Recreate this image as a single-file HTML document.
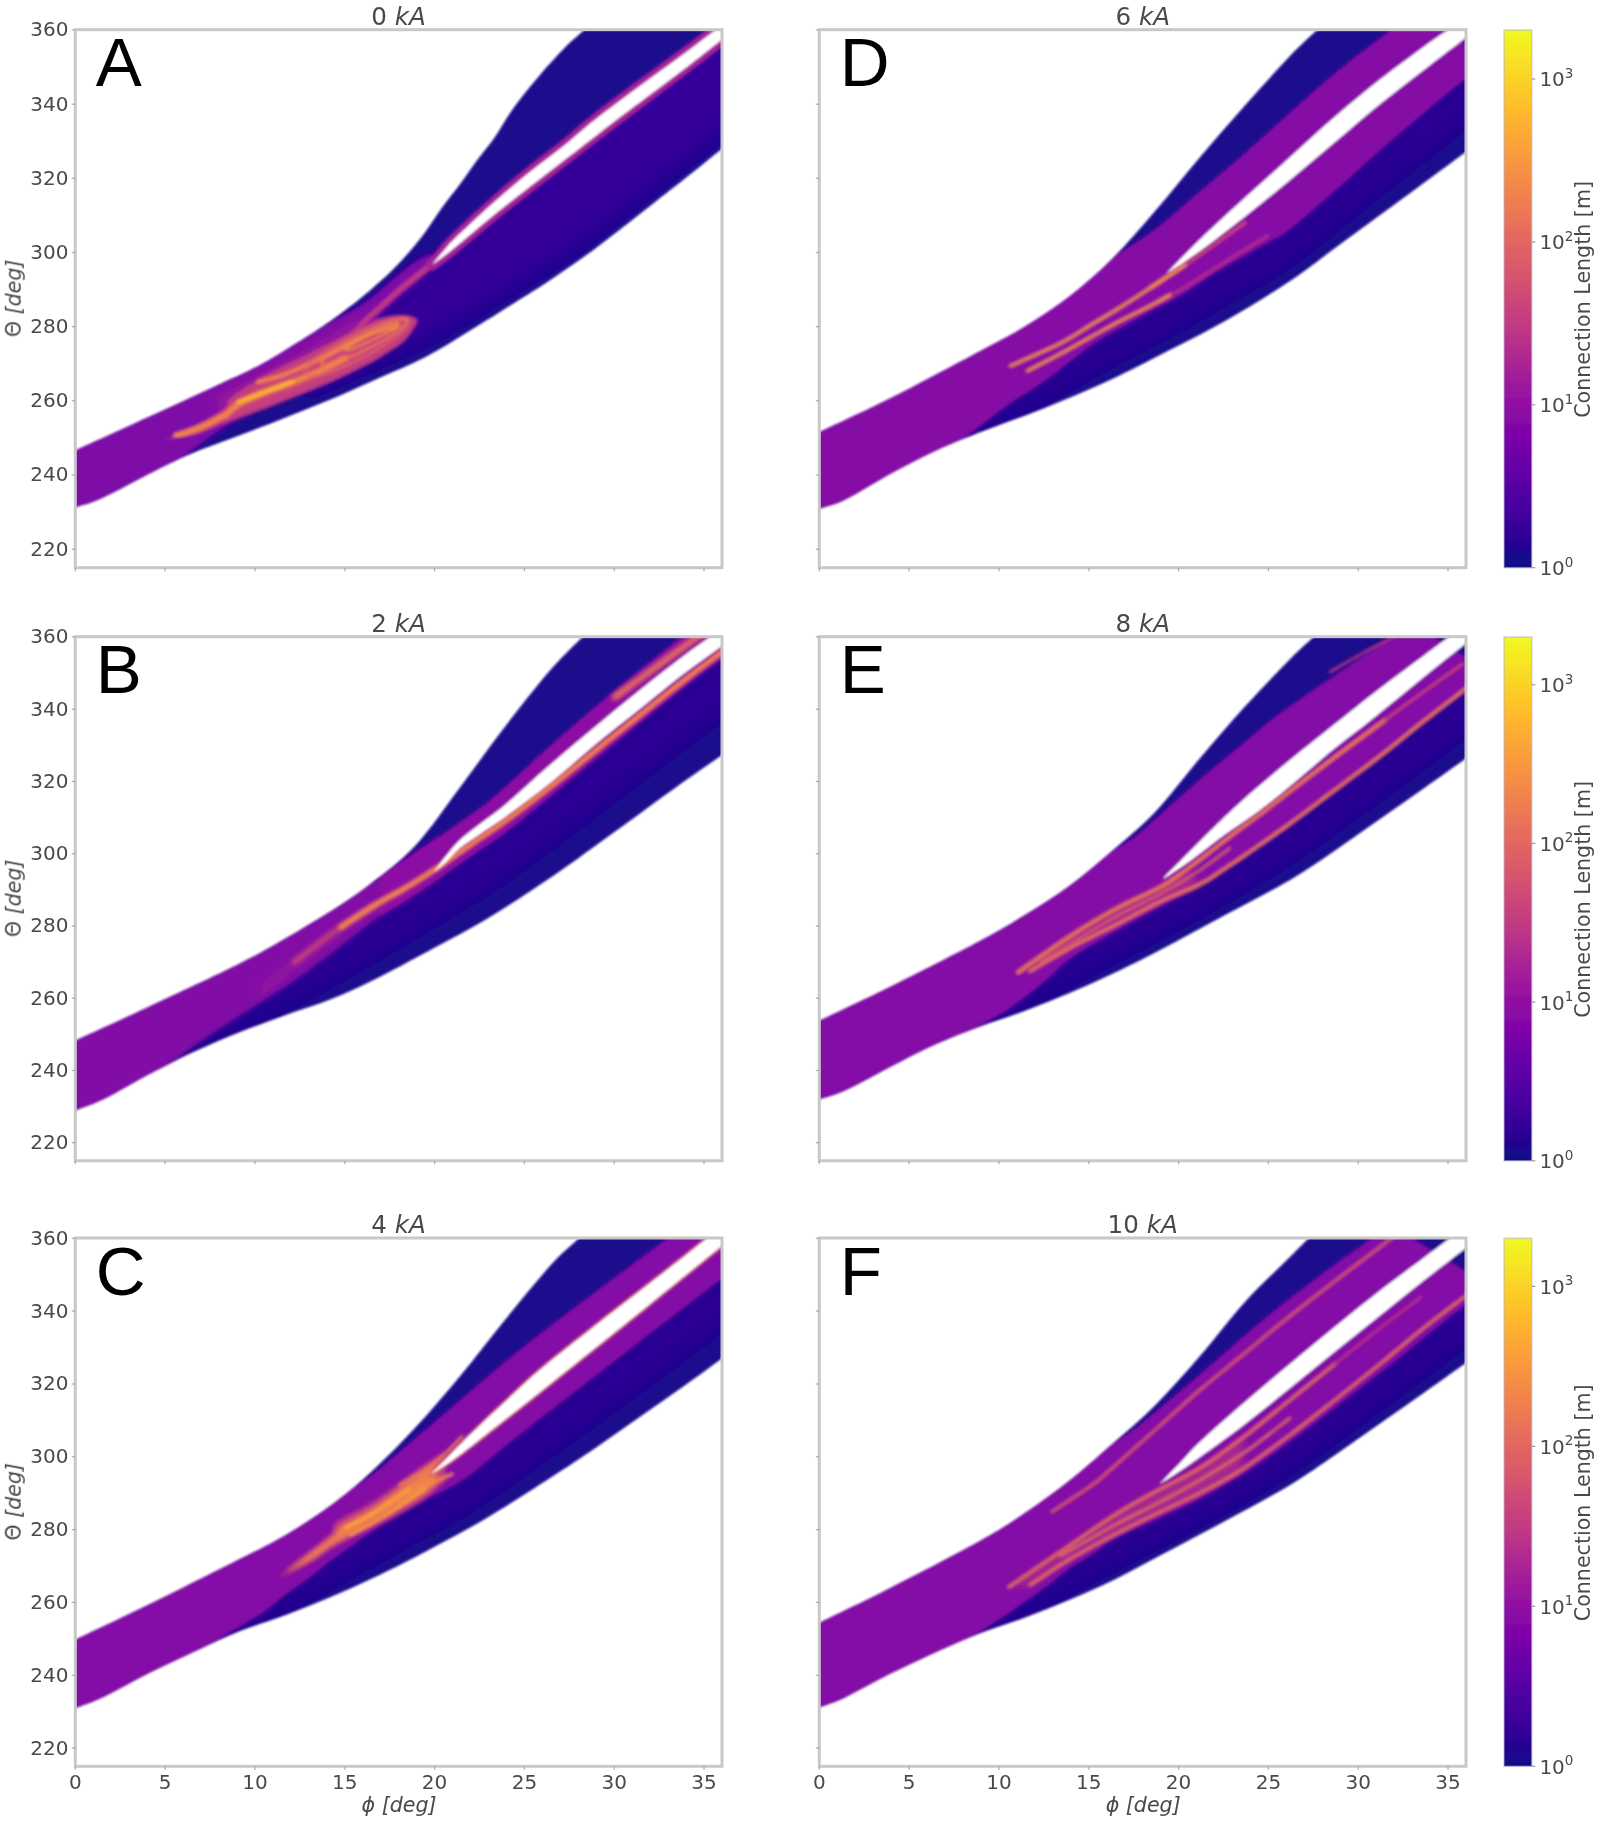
<!DOCTYPE html>
<html lang="en"><head><meta charset="utf-8"><title>Connection length maps</title>
<style>
html,body{margin:0;padding:0;background:#fff;}
body{width:1600px;height:1822px;overflow:hidden;}
svg{display:block;font-family:"DejaVu Sans","Liberation Sans",sans-serif;}
.tk{font-size:20px;fill:#4a4a4a;}
.tt{font-size:24.6px;fill:#4a4a4a;}
.lb{font-size:20.6px;fill:#4a4a4a;}
.it{font-style:italic;}
.big{font-family:"Liberation Sans",sans-serif;font-size:69px;fill:#000;}
.sup{font-size:13.5px;}
</style></head><body>
<svg width="1600" height="1822" viewBox="0 0 1600 1822">
<defs>
<linearGradient id="plasma" x1="0" y1="1" x2="0" y2="0">
<stop offset="0.00" stop-color="#0d0887"/><stop offset="0.05" stop-color="#2c0594"/><stop offset="0.10" stop-color="#42049e"/><stop offset="0.15" stop-color="#5601a4"/><stop offset="0.20" stop-color="#6a00a8"/><stop offset="0.25" stop-color="#7e03a8"/><stop offset="0.30" stop-color="#8f0da4"/><stop offset="0.35" stop-color="#a11b9b"/><stop offset="0.40" stop-color="#b12a90"/><stop offset="0.45" stop-color="#c03a83"/><stop offset="0.50" stop-color="#cc4778"/><stop offset="0.55" stop-color="#d8576b"/><stop offset="0.60" stop-color="#e16462"/><stop offset="0.65" stop-color="#ea7457"/><stop offset="0.70" stop-color="#f2844b"/><stop offset="0.75" stop-color="#f89540"/><stop offset="0.80" stop-color="#fca636"/><stop offset="0.85" stop-color="#feba2c"/><stop offset="0.90" stop-color="#fcce25"/><stop offset="0.95" stop-color="#f7e425"/><stop offset="1.00" stop-color="#f0f921"/>
</linearGradient>
<filter id="b1" x="-5%" y="-5%" width="110%" height="110%"><feGaussianBlur stdDeviation="0.9"/></filter>
<filter id="b2" x="-10%" y="-10%" width="120%" height="120%"><feGaussianBlur stdDeviation="2"/></filter>
<filter id="b4" x="-20%" y="-20%" width="140%" height="140%"><feGaussianBlur stdDeviation="4"/></filter>
<filter id="b8" x="-30%" y="-30%" width="160%" height="160%"><feGaussianBlur stdDeviation="11"/></filter>
<filter id="bt"><feGaussianBlur stdDeviation="0.55"/></filter>

<clipPath id="cpA"><rect x="75.3" y="30.0" width="646.7" height="537.7"/></clipPath>
<clipPath id="cpD"><rect x="819.3" y="30.0" width="646.7" height="537.7"/></clipPath>
<clipPath id="cpB"><rect x="75.3" y="637.0" width="646.7" height="523.8"/></clipPath>
<clipPath id="cpE"><rect x="819.3" y="637.0" width="646.7" height="523.8"/></clipPath>
<clipPath id="cpC"><rect x="75.3" y="1238.3" width="646.7" height="528.0"/></clipPath>
<clipPath id="cpF"><rect x="819.3" y="1238.3" width="646.7" height="528.0"/></clipPath>
</defs>
<rect width="1600" height="1822" fill="#fff"/>
<g clip-path="url(#cpA)"><g filter="url(#b1)">
<clipPath id="olA"><path d="M58.0,458.0 C61.1,456.7 61.7,456.7 76.6,450.0 C91.5,443.3 124.0,428.4 147.5,417.6 C171.0,406.8 198.4,394.2 217.5,385.3 C236.6,376.4 247.0,372.2 262.0,364.0 C277.0,355.8 294.9,344.3 307.5,336.3 C320.1,328.3 328.8,322.3 337.5,316.0 C346.2,309.7 353.8,303.8 360.0,298.8 C366.2,293.8 370.0,290.4 375.0,286.0 C380.0,281.6 384.6,277.8 390.0,272.5 C395.4,267.2 401.7,260.7 407.5,254.0 C413.3,247.3 419.2,240.3 425.0,232.5 C430.8,224.7 436.7,215.0 442.5,207.0 C448.3,199.0 454.2,192.2 460.0,184.3 C465.8,176.4 471.7,167.7 477.5,159.8 C483.3,151.9 488.8,146.0 495.0,137.0 C501.2,128.0 507.5,116.3 515.0,106.0 C522.5,95.7 531.7,84.8 540.0,75.0 C548.3,65.2 557.7,55.0 565.0,47.5 C572.3,40.0 577.7,35.9 584.0,30.0 C590.3,24.1 599.8,15.0 603.0,12.0 L760.0,12.0 L745.0,131.0 C741.0,134.1 729.3,142.9 721.0,149.5 C712.7,156.1 705.8,161.9 695.0,170.5 C684.2,179.1 671.0,189.5 656.0,201.2 C641.0,213.0 617.7,231.3 605.0,241.0 C592.3,250.7 589.5,252.8 580.0,259.5 C570.5,266.2 558.8,274.3 548.0,281.5 C537.2,288.7 528.0,294.3 515.0,302.5 C502.0,310.7 485.0,321.4 470.0,330.5 C455.0,339.6 440.0,349.5 425.0,357.3 C410.0,365.1 394.2,371.1 380.0,377.5 C365.8,383.9 352.5,390.1 340.0,395.5 C327.5,400.9 316.7,405.0 305.0,409.8 C293.3,414.5 281.7,419.2 270.0,423.8 C258.3,428.3 246.7,432.5 235.0,436.9 C223.3,441.3 211.7,445.2 200.0,450.0 C188.3,454.8 181.0,457.9 165.0,465.8 C149.0,473.6 118.5,490.4 103.8,497.2 C89.0,504.1 84.2,504.2 76.6,506.9 C69.0,509.6 61.1,512.4 58.0,513.5Z"/></clipPath>
<path d="M58.0,458.0 C61.1,456.7 61.7,456.7 76.6,450.0 C91.5,443.3 124.0,428.4 147.5,417.6 C171.0,406.8 198.4,394.2 217.5,385.3 C236.6,376.4 247.0,372.2 262.0,364.0 C277.0,355.8 294.9,344.3 307.5,336.3 C320.1,328.3 328.8,322.3 337.5,316.0 C346.2,309.7 353.8,303.8 360.0,298.8 C366.2,293.8 370.0,290.4 375.0,286.0 C380.0,281.6 384.6,277.8 390.0,272.5 C395.4,267.2 401.7,260.7 407.5,254.0 C413.3,247.3 419.2,240.3 425.0,232.5 C430.8,224.7 436.7,215.0 442.5,207.0 C448.3,199.0 454.2,192.2 460.0,184.3 C465.8,176.4 471.7,167.7 477.5,159.8 C483.3,151.9 488.8,146.0 495.0,137.0 C501.2,128.0 507.5,116.3 515.0,106.0 C522.5,95.7 531.7,84.8 540.0,75.0 C548.3,65.2 557.7,55.0 565.0,47.5 C572.3,40.0 577.7,35.9 584.0,30.0 C590.3,24.1 599.8,15.0 603.0,12.0 L760.0,12.0 L745.0,131.0 C741.0,134.1 729.3,142.9 721.0,149.5 C712.7,156.1 705.8,161.9 695.0,170.5 C684.2,179.1 671.0,189.5 656.0,201.2 C641.0,213.0 617.7,231.3 605.0,241.0 C592.3,250.7 589.5,252.8 580.0,259.5 C570.5,266.2 558.8,274.3 548.0,281.5 C537.2,288.7 528.0,294.3 515.0,302.5 C502.0,310.7 485.0,321.4 470.0,330.5 C455.0,339.6 440.0,349.5 425.0,357.3 C410.0,365.1 394.2,371.1 380.0,377.5 C365.8,383.9 352.5,390.1 340.0,395.5 C327.5,400.9 316.7,405.0 305.0,409.8 C293.3,414.5 281.7,419.2 270.0,423.8 C258.3,428.3 246.7,432.5 235.0,436.9 C223.3,441.3 211.7,445.2 200.0,450.0 C188.3,454.8 181.0,457.9 165.0,465.8 C149.0,473.6 118.5,490.4 103.8,497.2 C89.0,504.1 84.2,504.2 76.6,506.9 C69.0,509.6 61.1,512.4 58.0,513.5Z" fill="#1b088c"/>
<g clip-path="url(#olA)">
<path d="M300.0,372.0 C310.0,364.2 338.0,343.0 360.0,325.0 C382.0,307.0 393.7,296.2 432.0,264.0 C470.3,231.8 547.0,166.5 590.0,132.0 C633.0,97.5 665.0,75.7 690.0,57.0 C715.0,38.3 731.7,26.2 740.0,20.0 L740.0,117.0 C732.5,123.0 709.0,141.8 695.0,153.0 C681.0,164.2 671.0,172.2 656.0,184.0 C641.0,195.8 619.8,212.5 605.0,224.0 C590.2,235.5 582.0,242.8 567.0,253.0 C552.0,263.2 531.2,275.0 515.0,285.0 C498.8,295.0 485.0,304.0 470.0,313.0 C455.0,322.0 443.3,329.8 425.0,339.0 C406.7,348.2 380.8,358.7 360.0,368.0 C339.2,377.3 310.0,390.5 300.0,395.0Z" fill="#35049a" filter="url(#b8)"/>
<path d="M58.0,452.0 C61.1,450.8 61.7,451.7 76.6,445.0 C91.5,438.3 124.0,422.8 147.5,412.0 C171.0,401.2 198.4,388.8 217.5,380.0 C236.6,371.2 247.0,366.7 262.0,359.0 C277.0,351.3 296.2,340.2 307.5,334.0 C318.8,327.8 320.4,327.3 330.0,322.0 C339.6,316.7 353.3,310.2 365.0,302.0 C376.7,293.8 391.2,280.0 400.0,273.0 C408.8,266.0 412.2,263.3 417.5,260.0 C422.8,256.7 429.6,254.2 432.0,253.0 L432.4,268.0 C429.9,270.3 422.9,277.2 417.5,282.0 C412.1,286.8 405.8,291.5 400.0,296.5 C394.2,301.5 386.2,308.2 382.5,312.0 C378.8,315.8 379.1,314.0 378.0,319.0 C376.9,324.0 378.2,334.8 376.0,342.0 C373.8,349.2 371.0,356.3 365.0,362.0 C359.0,367.7 347.1,372.3 340.0,376.0 C332.9,379.7 331.2,380.3 322.5,384.0 C313.8,387.7 299.2,393.3 287.5,398.0 C275.8,402.7 264.2,406.3 252.5,412.0 C240.8,417.7 228.8,424.7 217.5,432.0 C206.2,439.3 193.8,450.0 185.0,456.0 C176.2,462.0 178.5,460.7 165.0,468.0 C151.5,475.3 118.5,493.0 103.8,500.0 C89.0,507.0 84.2,507.5 76.6,510.0 C69.0,512.5 61.1,514.2 58.0,515.0Z" fill="#7e08a7" filter="url(#b2)"/>
<path d="M215.0,395.0 C222.8,390.8 246.6,378.3 262.0,370.0 C277.4,361.7 294.9,352.0 307.5,345.0 C320.1,338.0 328.8,333.2 337.5,328.0 C346.2,322.8 356.2,316.3 360.0,314.0 L360.0,338.0 C356.2,340.0 346.2,344.7 337.5,350.0 C328.8,355.3 320.1,363.0 307.5,370.0 C294.9,377.0 277.4,384.5 262.0,392.0 C246.6,399.5 222.8,411.2 215.0,415.0Z" fill="#9a169e" filter="url(#b4)" opacity="0.7"/>
<path d="M340.0,346.0 C342.0,344.2 347.8,339.2 352.0,335.0 C356.2,330.8 359.9,326.0 365.0,321.0 C370.1,316.0 376.7,310.5 382.5,305.2 C388.3,300.0 394.2,294.5 400.0,289.5 C405.8,284.5 412.1,279.7 417.5,275.5 C422.9,271.3 429.9,266.0 432.4,264.1" fill="none" stroke="#bd3786" stroke-width="6" stroke-linecap="round" filter="url(#b1)"/>
<path d="M432.0,264.8 C434.0,262.4 440.0,255.1 444.0,250.5 C448.0,245.9 447.5,245.7 456.0,237.5 C464.5,229.3 482.7,212.4 495.0,201.5 C507.3,190.6 518.3,181.4 530.0,172.0 C541.7,162.6 554.4,153.5 565.0,145.0 C575.6,136.5 581.0,130.8 593.5,121.0 C606.0,111.2 623.9,97.9 640.0,86.0 C656.1,74.1 673.3,62.0 690.0,49.5 C706.7,37.0 731.7,17.4 740.0,11.0 L740.0,25.0 C731.7,31.6 710.9,48.5 690.0,64.5 C669.1,80.5 629.8,109.7 614.8,121.0 C599.8,132.3 608.3,126.1 600.0,132.5 C591.7,138.9 576.7,150.5 565.0,159.5 C553.3,168.5 541.7,177.4 530.0,186.5 C518.3,195.6 507.3,204.0 495.0,214.0 C482.7,224.0 464.5,239.5 456.0,246.5 C447.5,253.5 448.0,252.9 444.0,256.0 C440.0,259.1 434.0,263.3 432.0,264.8Z" fill="#a8239a" stroke="#a8239a" stroke-width="11" stroke-linejoin="round" filter="url(#b1)"/>
<path d="M432.0,264.8 C434.0,262.4 440.0,255.1 444.0,250.5 C448.0,245.9 447.5,245.7 456.0,237.5 C464.5,229.3 482.7,212.4 495.0,201.5 C507.3,190.6 518.3,181.4 530.0,172.0 C541.7,162.6 554.4,153.5 565.0,145.0 C575.6,136.5 581.0,130.8 593.5,121.0 C606.0,111.2 623.9,97.9 640.0,86.0 C656.1,74.1 673.3,62.0 690.0,49.5 C706.7,37.0 731.7,17.4 740.0,11.0 L740.0,25.0 C731.7,31.6 710.9,48.5 690.0,64.5 C669.1,80.5 629.8,109.7 614.8,121.0 C599.8,132.3 608.3,126.1 600.0,132.5 C591.7,138.9 576.7,150.5 565.0,159.5 C553.3,168.5 541.7,177.4 530.0,186.5 C518.3,195.6 507.3,204.0 495.0,214.0 C482.7,224.0 464.5,239.5 456.0,246.5 C447.5,253.5 448.0,252.9 444.0,256.0 C440.0,259.1 434.0,263.3 432.0,264.8Z" fill="#fff"/>
<path d="M165.0,439.5 C170.0,437.2 185.0,431.2 195.0,426.0 C205.0,420.8 219.0,412.7 224.8,408.0 C230.6,403.3 223.3,403.4 230.0,398.0 C236.7,392.6 253.3,382.0 265.0,375.3 C276.7,368.6 288.3,363.6 300.0,357.8 C311.7,352.0 323.3,346.1 335.0,340.3 C346.7,334.5 361.2,326.8 370.0,322.8 C378.8,318.9 381.1,317.8 387.5,316.6 C393.9,315.4 403.5,315.4 408.5,315.8 C413.5,316.2 415.8,318.7 417.3,319.3 L417.3,322.8 C415.2,325.7 410.0,335.4 405.0,340.3 C400.0,345.2 393.3,348.7 387.5,352.5 C381.7,356.3 378.8,358.4 370.0,363.0 C361.2,367.6 346.7,374.8 335.0,380.0 C323.3,385.2 311.7,389.8 300.0,394.5 C288.3,399.2 276.7,404.1 265.0,408.5 C253.3,412.9 241.7,416.7 230.0,421.0 C218.3,425.3 205.8,431.4 195.0,434.5 C184.2,437.6 170.0,438.7 165.0,439.5Z" fill="#c23c80" filter="url(#b1)"/>
<path d="M232.0,404.0 C237.5,400.5 253.7,389.5 265.0,383.0 C276.3,376.5 288.3,370.8 300.0,365.0 C311.7,359.2 323.3,353.7 335.0,348.0 C346.7,342.3 359.2,335.3 370.0,331.0 C380.8,326.7 395.0,323.5 400.0,322.0 L400.0,330.0 C395.0,333.7 380.8,345.2 370.0,352.0 C359.2,358.8 346.7,365.2 335.0,371.0 C323.3,376.8 311.7,382.0 300.0,387.0 C288.3,392.0 276.3,396.5 265.0,401.0 C253.7,405.5 237.5,411.8 232.0,414.0Z" fill="#cf4a75" filter="url(#b2)" opacity="0.7"/>
<path d="M176.0,435.5 C180.0,434.2 191.7,431.0 200.0,427.5 C208.3,424.0 221.7,416.7 226.0,414.5" fill="none" stroke="#f1824c" stroke-width="6" stroke-linecap="round" filter="url(#b1)"/>
<path d="M226.0,414.5 C228.7,412.4 234.9,405.9 242.0,402.0 C249.1,398.1 260.0,394.3 268.5,391.0 C277.0,387.7 284.4,385.3 293.0,382.0 C301.6,378.7 311.3,375.0 320.0,371.0 C328.7,367.0 340.8,360.2 345.0,358.0" fill="none" stroke="#f1824c" stroke-width="6" stroke-linecap="round" filter="url(#b1)"/>
<path d="M238.0,402.5 C243.1,400.5 259.3,394.0 268.5,390.5 C277.7,387.0 288.9,383.0 293.0,381.5" fill="none" stroke="#fdb52e" stroke-width="3.6" stroke-linecap="round" filter="url(#b1)"/>
<path d="M258.0,382.0 C261.7,381.0 273.0,378.3 280.0,376.0 C287.0,373.7 290.8,372.1 300.0,368.0 C309.2,363.9 323.3,357.2 335.0,351.5 C346.7,345.8 359.8,338.1 370.0,334.0 C380.2,329.9 391.7,328.2 396.0,327.0" fill="none" stroke="#f1824c" stroke-width="4" stroke-linecap="round" filter="url(#b1)"/>
<ellipse cx="364.0" cy="342.0" rx="48" ry="8" transform="rotate(-27 364.0 342.0)" fill="none" stroke="#ef7e50" stroke-width="2.4" filter="url(#b1)"/>
<ellipse cx="372.0" cy="336.5" rx="30" ry="3.6" transform="rotate(-26 372.0 336.5)" fill="none" stroke="#f58f44" stroke-width="2.2" filter="url(#b1)"/>
<ellipse cx="357.0" cy="347.0" rx="58" ry="12" transform="rotate(-27.5 357.0 347.0)" fill="none" stroke="#e36860" stroke-width="2.2" filter="url(#b1)"/>
</g>
</g></g>
<rect x="75.3" y="29.7" width="646.7" height="538.0" fill="none" stroke="#c8c8c8" stroke-width="3"/>
<g clip-path="url(#cpD)"><g filter="url(#b1)">
<clipPath id="olD"><path d="M803.0,440.0 C805.7,438.7 804.5,439.2 819.0,432.3 C833.5,425.4 863.2,412.0 890.0,398.5 C916.8,385.0 957.5,363.2 980.0,351.2 C1002.5,339.2 1010.0,335.7 1025.0,326.5 C1040.0,317.3 1055.5,307.2 1070.0,296.0 C1084.5,284.8 1097.8,273.1 1112.0,259.0 C1126.2,244.9 1140.3,228.2 1155.0,211.2 C1169.7,194.3 1185.0,174.9 1200.0,157.2 C1215.0,139.6 1230.0,122.4 1245.0,105.5 C1260.0,88.6 1278.0,68.6 1290.0,56.0 C1302.0,43.4 1309.5,37.3 1317.0,30.0 C1324.5,22.7 1332.0,15.0 1335.0,12.0 L1500.0,12.0 L1490.0,134.0 C1485.5,137.3 1473.8,146.0 1463.0,154.0 C1452.2,162.0 1438.8,171.8 1425.0,182.0 C1411.2,192.2 1395.0,204.0 1380.0,215.0 C1365.0,226.0 1350.0,237.0 1335.0,248.0 C1320.0,259.0 1308.3,268.8 1290.0,281.0 C1271.7,293.2 1246.7,308.7 1225.0,321.0 C1203.3,333.3 1180.2,344.7 1160.0,355.0 C1139.8,365.3 1123.3,373.9 1104.0,382.8 C1084.7,391.6 1064.0,400.2 1044.0,408.2 C1024.0,416.2 1002.2,423.6 984.0,430.8 C965.8,437.9 950.7,443.8 935.0,451.0 C919.3,458.2 905.0,465.9 890.0,474.0 C875.0,482.1 856.8,494.0 845.0,499.8 C833.2,505.5 826.0,506.4 819.0,508.8 C812.0,511.1 805.7,513.1 803.0,514.0Z"/></clipPath>
<path d="M803.0,440.0 C805.7,438.7 804.5,439.2 819.0,432.3 C833.5,425.4 863.2,412.0 890.0,398.5 C916.8,385.0 957.5,363.2 980.0,351.2 C1002.5,339.2 1010.0,335.7 1025.0,326.5 C1040.0,317.3 1055.5,307.2 1070.0,296.0 C1084.5,284.8 1097.8,273.1 1112.0,259.0 C1126.2,244.9 1140.3,228.2 1155.0,211.2 C1169.7,194.3 1185.0,174.9 1200.0,157.2 C1215.0,139.6 1230.0,122.4 1245.0,105.5 C1260.0,88.6 1278.0,68.6 1290.0,56.0 C1302.0,43.4 1309.5,37.3 1317.0,30.0 C1324.5,22.7 1332.0,15.0 1335.0,12.0 L1500.0,12.0 L1490.0,134.0 C1485.5,137.3 1473.8,146.0 1463.0,154.0 C1452.2,162.0 1438.8,171.8 1425.0,182.0 C1411.2,192.2 1395.0,204.0 1380.0,215.0 C1365.0,226.0 1350.0,237.0 1335.0,248.0 C1320.0,259.0 1308.3,268.8 1290.0,281.0 C1271.7,293.2 1246.7,308.7 1225.0,321.0 C1203.3,333.3 1180.2,344.7 1160.0,355.0 C1139.8,365.3 1123.3,373.9 1104.0,382.8 C1084.7,391.6 1064.0,400.2 1044.0,408.2 C1024.0,416.2 1002.2,423.6 984.0,430.8 C965.8,437.9 950.7,443.8 935.0,451.0 C919.3,458.2 905.0,465.9 890.0,474.0 C875.0,482.1 856.8,494.0 845.0,499.8 C833.2,505.5 826.0,506.4 819.0,508.8 C812.0,511.1 805.7,513.1 803.0,514.0Z" fill="#1b088c"/>
<g clip-path="url(#olD)">
<path d="M970.0,429.7 C976.7,424.7 996.7,409.1 1010.0,399.7 C1023.3,390.3 1036.7,382.7 1050.0,373.2 C1063.3,363.6 1076.7,351.5 1090.0,342.5 C1103.3,333.5 1116.7,326.5 1130.0,319.0 C1143.3,311.5 1156.7,305.1 1170.0,297.3 C1183.3,289.6 1196.7,280.6 1210.0,272.5 C1223.3,264.4 1236.7,256.8 1250.0,248.9 C1263.3,241.1 1276.7,234.9 1290.0,225.2 C1303.3,215.6 1316.7,202.9 1330.0,191.2 C1343.3,179.6 1356.7,167.2 1370.0,155.5 C1383.3,143.8 1396.7,132.3 1410.0,121.0 C1423.3,109.7 1436.7,98.7 1450.0,87.5 C1463.3,76.4 1483.3,59.6 1490.0,54.0 L1490.0,99.8 C1483.3,105.0 1463.3,120.7 1450.0,131.2 C1436.7,141.6 1423.3,151.9 1410.0,162.4 C1396.7,172.9 1383.3,183.4 1370.0,194.1 C1356.7,204.7 1343.3,215.7 1330.0,226.3 C1316.7,236.9 1303.3,248.4 1290.0,257.7 C1276.7,267.0 1263.3,274.0 1250.0,281.9 C1236.7,289.8 1223.3,297.6 1210.0,305.3 C1196.7,313.0 1183.3,320.7 1170.0,328.0 C1156.7,335.2 1143.3,341.8 1130.0,348.8 C1116.7,355.7 1103.3,362.4 1090.0,369.7 C1076.7,377.1 1063.3,385.6 1050.0,392.9 C1036.7,400.1 1023.3,406.1 1010.0,413.2 C996.7,420.3 976.7,431.6 970.0,435.3Z" fill="#2d0595" filter="url(#b8)"/>
<path d="M803.0,434.0 C805.7,432.8 804.5,433.8 819.0,427.0 C833.5,420.2 863.2,406.5 890.0,393.0 C916.8,379.5 957.5,358.0 980.0,346.0 C1002.5,334.0 1010.0,330.2 1025.0,321.0 C1040.0,311.8 1055.5,301.5 1070.0,291.0 C1084.5,280.5 1097.8,268.3 1112.0,258.0 C1126.2,247.7 1140.3,240.4 1155.0,229.2 C1169.7,218.1 1185.0,203.8 1200.0,191.0 C1215.0,178.2 1230.0,165.9 1245.0,152.8 C1260.0,139.6 1275.0,125.6 1290.0,112.2 C1305.0,98.9 1320.0,85.3 1335.0,72.9 C1350.0,60.5 1370.7,45.1 1380.0,38.0 C1389.3,30.8 1385.7,34.3 1391.0,30.0 C1396.3,25.7 1408.5,15.0 1412.0,12.0 L1490.0,58.0 C1485.5,61.8 1473.8,71.7 1463.0,80.8 C1452.2,89.8 1438.8,100.6 1425.0,112.2 C1411.2,123.9 1395.0,137.4 1380.0,150.5 C1365.0,163.6 1350.0,177.9 1335.0,191.0 C1320.0,204.1 1301.2,220.6 1290.0,229.2 C1278.8,237.9 1279.2,236.2 1267.5,243.0 C1255.8,249.8 1234.6,261.2 1220.0,270.0 C1205.4,278.8 1191.7,289.0 1180.0,296.0 C1168.3,303.0 1160.0,306.6 1150.0,312.0 C1140.0,317.4 1130.0,322.8 1120.0,328.5 C1110.0,334.2 1102.5,337.8 1090.0,346.5 C1077.5,355.2 1058.7,371.2 1045.0,381.0 C1031.3,390.8 1021.0,395.8 1008.0,405.0 C995.0,414.2 979.2,427.8 967.0,436.0 C954.8,444.2 947.8,447.2 935.0,454.0 C922.2,460.8 905.0,469.0 890.0,477.0 C875.0,485.0 856.8,496.3 845.0,502.0 C833.2,507.7 826.0,508.7 819.0,511.0 C812.0,513.3 805.7,515.2 803.0,516.0Z" fill="#8508a6" filter="url(#b1)"/>
<path d="M1160.0,300.6 C1164.0,298.5 1173.2,294.2 1184.0,287.8 C1194.8,281.3 1211.1,270.6 1225.0,262.0 C1238.9,253.4 1260.4,240.3 1267.5,236.0" fill="none" stroke="#b12a90" stroke-width="3.5" stroke-linecap="round" filter="url(#b1)"/>
<path d="M1150.0,288.0 C1158.3,282.4 1184.2,265.4 1200.0,254.5 C1215.8,243.6 1237.5,227.8 1245.0,222.5" fill="none" stroke="#cc4778" stroke-width="3.5" stroke-linecap="round" filter="url(#b1)"/>
<path d="M1010.4,365.9 C1018.7,362.2 1046.7,350.2 1060.0,343.5 C1073.3,336.8 1080.0,331.5 1090.0,325.5 C1100.0,319.5 1108.3,314.8 1120.0,307.5 C1131.7,300.2 1149.2,288.6 1160.0,281.5 C1170.8,274.4 1180.8,267.8 1185.0,265.0" fill="none" stroke="#f68d45" stroke-width="3.3" stroke-linecap="round" filter="url(#b1)"/>
<path d="M1027.2,371.0 C1032.7,368.2 1049.5,359.6 1060.0,354.0 C1070.5,348.4 1080.0,343.0 1090.0,337.5 C1100.0,332.0 1110.0,326.2 1120.0,321.0 C1130.0,315.8 1141.7,310.3 1150.0,306.0 C1158.3,301.7 1166.7,296.8 1170.0,295.0" fill="none" stroke="#f68d45" stroke-width="3.3" stroke-linecap="round" filter="url(#b1)"/>
<path d="M1166.0,274.0 C1171.7,268.2 1186.8,252.1 1200.0,239.4 C1213.2,226.7 1230.0,211.4 1245.0,197.8 C1260.0,184.1 1275.0,170.8 1290.0,157.2 C1305.0,143.8 1320.0,129.7 1335.0,116.8 C1350.0,103.8 1365.0,91.4 1380.0,79.6 C1395.0,67.8 1413.8,54.2 1425.0,45.9 C1436.2,37.6 1440.0,35.5 1447.5,30.0 C1455.0,24.5 1466.2,15.8 1470.0,13.0 L1490.0,21.0 C1485.5,24.2 1473.8,32.0 1463.0,40.0 C1452.2,48.0 1438.8,58.3 1425.0,69.0 C1411.2,79.7 1395.0,91.8 1380.0,104.0 C1365.0,116.2 1350.0,129.3 1335.0,142.0 C1320.0,154.7 1305.0,167.6 1290.0,180.0 C1275.0,192.4 1260.0,204.7 1245.0,216.5 C1230.0,228.3 1213.2,241.4 1200.0,251.0 C1186.8,260.6 1171.7,270.2 1166.0,274.0Z" fill="#fff"/>
</g>
</g></g>
<rect x="819.3" y="29.7" width="646.7" height="538.0" fill="none" stroke="#c8c8c8" stroke-width="3"/>
<g filter="url(#bt)">
<text class="tt" x="398.6" y="25.0" text-anchor="middle">0 <tspan class="it">kA</tspan></text>
<text class="big" x="95.8" y="86.3">A</text>
<line x1="71.8" x2="75.3" y1="549.2" y2="549.2" stroke="#aaa" stroke-width="1.2"/>
<text class="tk" x="68.5" y="555.6" text-anchor="end">220</text>
<line x1="71.8" x2="75.3" y1="475.0" y2="475.0" stroke="#aaa" stroke-width="1.2"/>
<text class="tk" x="68.5" y="481.4" text-anchor="end">240</text>
<line x1="71.8" x2="75.3" y1="400.8" y2="400.8" stroke="#aaa" stroke-width="1.2"/>
<text class="tk" x="68.5" y="407.2" text-anchor="end">260</text>
<line x1="71.8" x2="75.3" y1="326.7" y2="326.7" stroke="#aaa" stroke-width="1.2"/>
<text class="tk" x="68.5" y="333.1" text-anchor="end">280</text>
<line x1="71.8" x2="75.3" y1="252.5" y2="252.5" stroke="#aaa" stroke-width="1.2"/>
<text class="tk" x="68.5" y="258.9" text-anchor="end">300</text>
<line x1="71.8" x2="75.3" y1="178.3" y2="178.3" stroke="#aaa" stroke-width="1.2"/>
<text class="tk" x="68.5" y="184.7" text-anchor="end">320</text>
<line x1="71.8" x2="75.3" y1="104.2" y2="104.2" stroke="#aaa" stroke-width="1.2"/>
<text class="tk" x="68.5" y="110.6" text-anchor="end">340</text>
<line x1="71.8" x2="75.3" y1="30.0" y2="30.0" stroke="#aaa" stroke-width="1.2"/>
<text class="tk" x="68.5" y="36.4" text-anchor="end">360</text>
<line x1="75.3" x2="75.3" y1="567.7" y2="571.2" stroke="#aaa" stroke-width="1.2"/>
<line x1="165.1" x2="165.1" y1="567.7" y2="571.2" stroke="#aaa" stroke-width="1.2"/>
<line x1="254.9" x2="254.9" y1="567.7" y2="571.2" stroke="#aaa" stroke-width="1.2"/>
<line x1="344.8" x2="344.8" y1="567.7" y2="571.2" stroke="#aaa" stroke-width="1.2"/>
<line x1="434.6" x2="434.6" y1="567.7" y2="571.2" stroke="#aaa" stroke-width="1.2"/>
<line x1="524.4" x2="524.4" y1="567.7" y2="571.2" stroke="#aaa" stroke-width="1.2"/>
<line x1="614.2" x2="614.2" y1="567.7" y2="571.2" stroke="#aaa" stroke-width="1.2"/>
<line x1="704.0" x2="704.0" y1="567.7" y2="571.2" stroke="#aaa" stroke-width="1.2"/>
<text class="lb" transform="translate(20.8,298.4) rotate(-90)" text-anchor="middle">Θ <tspan class="it">[deg]</tspan></text>
<text class="tt" x="1142.7" y="25.0" text-anchor="middle">6 <tspan class="it">kA</tspan></text>
<text class="big" x="839.8" y="86.3">D</text>
<line x1="815.8" x2="819.3" y1="549.2" y2="549.2" stroke="#aaa" stroke-width="1.2"/>
<line x1="815.8" x2="819.3" y1="475.0" y2="475.0" stroke="#aaa" stroke-width="1.2"/>
<line x1="815.8" x2="819.3" y1="400.8" y2="400.8" stroke="#aaa" stroke-width="1.2"/>
<line x1="815.8" x2="819.3" y1="326.7" y2="326.7" stroke="#aaa" stroke-width="1.2"/>
<line x1="815.8" x2="819.3" y1="252.5" y2="252.5" stroke="#aaa" stroke-width="1.2"/>
<line x1="815.8" x2="819.3" y1="178.3" y2="178.3" stroke="#aaa" stroke-width="1.2"/>
<line x1="815.8" x2="819.3" y1="104.2" y2="104.2" stroke="#aaa" stroke-width="1.2"/>
<line x1="815.8" x2="819.3" y1="30.0" y2="30.0" stroke="#aaa" stroke-width="1.2"/>
<line x1="819.3" x2="819.3" y1="567.7" y2="571.2" stroke="#aaa" stroke-width="1.2"/>
<line x1="909.1" x2="909.1" y1="567.7" y2="571.2" stroke="#aaa" stroke-width="1.2"/>
<line x1="998.9" x2="998.9" y1="567.7" y2="571.2" stroke="#aaa" stroke-width="1.2"/>
<line x1="1088.8" x2="1088.8" y1="567.7" y2="571.2" stroke="#aaa" stroke-width="1.2"/>
<line x1="1178.6" x2="1178.6" y1="567.7" y2="571.2" stroke="#aaa" stroke-width="1.2"/>
<line x1="1268.4" x2="1268.4" y1="567.7" y2="571.2" stroke="#aaa" stroke-width="1.2"/>
<line x1="1358.2" x2="1358.2" y1="567.7" y2="571.2" stroke="#aaa" stroke-width="1.2"/>
<line x1="1448.0" x2="1448.0" y1="567.7" y2="571.2" stroke="#aaa" stroke-width="1.2"/>
<rect x="1504.0" y="30.0" width="27.8" height="537.7" fill="url(#plasma)"/>
<rect x="1504.0" y="30.0" width="27.8" height="537.7" fill="none" stroke="#b8b0c8" stroke-opacity="0.55" stroke-width="1.6"/>
<line x1="1531.8" x2="1535.3" y1="567.7" y2="567.7" stroke="#999" stroke-width="1.2"/>
<text class="tk" x="1539.4" y="575.1">10<tspan class="sup" dy="-8.5">0</tspan></text>
<line x1="1531.8" x2="1535.3" y1="404.8" y2="404.8" stroke="#999" stroke-width="1.2"/>
<text class="tk" x="1539.4" y="412.2">10<tspan class="sup" dy="-8.5">1</tspan></text>
<line x1="1531.8" x2="1535.3" y1="241.9" y2="241.9" stroke="#999" stroke-width="1.2"/>
<text class="tk" x="1539.4" y="249.3">10<tspan class="sup" dy="-8.5">2</tspan></text>
<line x1="1531.8" x2="1535.3" y1="79.0" y2="79.0" stroke="#999" stroke-width="1.2"/>
<text class="tk" x="1539.4" y="86.4">10<tspan class="sup" dy="-8.5">3</tspan></text>
<text class="lb" transform="translate(1589.6,299.4) rotate(-90)" text-anchor="middle">Connection Length [m]</text>
</g>
<g clip-path="url(#cpB)"><g filter="url(#b1)">
<clipPath id="olB"><path d="M58.0,1048.0 C61.1,1046.7 61.6,1047.0 76.9,1040.0 C92.2,1033.0 122.8,1019.0 150.0,1006.2 C177.2,993.5 217.5,974.8 240.0,963.5 C262.5,952.2 270.0,947.4 285.0,938.8 C300.0,930.1 315.8,920.8 330.0,911.8 C344.2,902.7 355.8,895.2 370.0,884.2 C384.2,873.3 400.0,862.1 415.0,846.0 C430.0,829.9 445.0,807.4 460.0,787.5 C475.0,767.6 490.0,746.2 505.0,726.8 C520.0,707.2 537.2,685.3 550.0,670.5 C562.8,655.7 573.2,646.3 581.5,637.9 C589.8,629.5 596.9,623.0 600.0,620.0 L760.0,620.0 L745.0,738.0 C741.2,740.8 732.0,747.8 722.0,754.9 C712.0,762.0 698.7,771.0 685.0,780.8 C671.3,790.5 655.0,802.5 640.0,813.4 C625.0,824.3 610.0,835.2 595.0,846.0 C580.0,856.8 568.3,865.7 550.0,878.0 C531.7,890.3 506.7,907.1 485.0,920.0 C463.3,932.9 438.3,945.6 420.0,955.5 C401.7,965.4 390.0,971.9 375.0,979.2 C360.0,986.6 345.0,993.5 330.0,999.5 C315.0,1005.5 300.0,1009.8 285.0,1015.2 C270.0,1020.7 255.0,1026.0 240.0,1032.0 C225.0,1038.0 210.0,1044.3 195.0,1051.2 C180.0,1058.2 165.0,1065.9 150.0,1073.8 C135.0,1081.6 117.2,1092.5 105.0,1098.5 C92.8,1104.5 84.7,1106.7 76.9,1109.8 C69.1,1112.8 61.1,1115.8 58.0,1117.0Z"/></clipPath>
<path d="M58.0,1048.0 C61.1,1046.7 61.6,1047.0 76.9,1040.0 C92.2,1033.0 122.8,1019.0 150.0,1006.2 C177.2,993.5 217.5,974.8 240.0,963.5 C262.5,952.2 270.0,947.4 285.0,938.8 C300.0,930.1 315.8,920.8 330.0,911.8 C344.2,902.7 355.8,895.2 370.0,884.2 C384.2,873.3 400.0,862.1 415.0,846.0 C430.0,829.9 445.0,807.4 460.0,787.5 C475.0,767.6 490.0,746.2 505.0,726.8 C520.0,707.2 537.2,685.3 550.0,670.5 C562.8,655.7 573.2,646.3 581.5,637.9 C589.8,629.5 596.9,623.0 600.0,620.0 L760.0,620.0 L745.0,738.0 C741.2,740.8 732.0,747.8 722.0,754.9 C712.0,762.0 698.7,771.0 685.0,780.8 C671.3,790.5 655.0,802.5 640.0,813.4 C625.0,824.3 610.0,835.2 595.0,846.0 C580.0,856.8 568.3,865.7 550.0,878.0 C531.7,890.3 506.7,907.1 485.0,920.0 C463.3,932.9 438.3,945.6 420.0,955.5 C401.7,965.4 390.0,971.9 375.0,979.2 C360.0,986.6 345.0,993.5 330.0,999.5 C315.0,1005.5 300.0,1009.8 285.0,1015.2 C270.0,1020.7 255.0,1026.0 240.0,1032.0 C225.0,1038.0 210.0,1044.3 195.0,1051.2 C180.0,1058.2 165.0,1065.9 150.0,1073.8 C135.0,1081.6 117.2,1092.5 105.0,1098.5 C92.8,1104.5 84.7,1106.7 76.9,1109.8 C69.1,1112.8 61.1,1115.8 58.0,1117.0Z" fill="#1b088c"/>
<g clip-path="url(#olB)">
<path d="M190.0,1045.5 C197.1,1040.7 218.5,1026.2 232.7,1016.8 C246.9,1007.3 261.2,998.6 275.4,989.0 C289.6,979.4 303.8,969.8 318.1,959.4 C332.3,949.1 346.5,937.2 360.8,926.9 C375.0,916.6 389.2,907.3 403.5,897.8 C417.7,888.2 431.9,879.3 446.2,869.7 C460.4,860.1 474.6,850.3 488.8,840.0 C503.1,829.7 517.3,818.9 531.5,807.8 C545.8,796.6 560.0,784.7 574.2,773.1 C588.5,761.4 602.7,749.6 616.9,738.0 C631.2,726.3 645.4,714.7 659.6,703.3 C673.8,692.0 688.1,680.8 702.3,669.9 C716.5,659.0 737.9,643.3 745.0,638.0 L745.0,694.8 C737.9,700.0 716.5,715.5 702.3,726.0 C688.1,736.5 673.8,747.1 659.6,757.8 C645.4,768.6 631.2,779.6 616.9,790.5 C602.7,801.3 588.5,812.4 574.2,823.1 C560.0,833.8 545.8,844.5 531.5,854.8 C517.3,865.0 503.1,875.1 488.8,884.4 C474.6,893.8 460.4,902.2 446.2,910.8 C431.9,919.4 417.7,927.7 403.5,936.1 C389.2,944.5 375.0,952.8 360.8,961.0 C346.5,969.3 332.3,977.9 318.1,985.6 C303.8,993.3 289.6,1000.0 275.4,1007.2 C261.2,1014.4 246.9,1021.2 232.7,1028.7 C218.5,1036.1 197.1,1048.0 190.0,1051.8Z" fill="#2d0595" filter="url(#b8)"/>
<path d="M58.0,1042.0 C61.1,1040.7 61.6,1040.8 76.9,1034.0 C92.2,1027.2 122.8,1013.7 150.0,1001.0 C177.2,988.3 217.5,969.3 240.0,958.0 C262.5,946.7 270.0,941.5 285.0,933.0 C300.0,924.5 317.5,914.5 330.0,907.0 C342.5,899.5 351.7,892.8 360.0,888.0 C368.3,883.2 373.3,882.2 380.0,878.0 C386.7,873.8 390.0,870.0 400.0,863.0 C410.0,856.0 433.3,840.5 440.0,836.0 L440.0,878.0 C436.7,880.2 426.7,886.7 420.0,891.0 C413.3,895.3 406.7,899.8 400.0,904.0 C393.3,908.2 390.0,908.8 380.0,916.0 C370.0,923.2 353.3,936.8 340.0,947.0 C326.7,957.2 313.3,967.7 300.0,977.0 C286.7,986.3 276.7,992.2 260.0,1003.0 C243.3,1013.8 214.7,1032.0 200.0,1042.0 C185.3,1052.0 180.3,1057.2 172.0,1063.0 C163.7,1068.8 161.2,1070.5 150.0,1077.0 C138.8,1083.5 117.2,1096.0 105.0,1102.0 C92.8,1108.0 84.7,1110.0 76.9,1113.0 C69.1,1116.0 61.1,1118.8 58.0,1120.0Z" fill="#8108a6" filter="url(#b2)"/>
<path d="M380.0,878.0 C383.3,875.5 390.0,870.0 400.0,863.0 C410.0,856.0 426.7,845.2 440.0,836.0 C453.3,826.8 469.2,816.2 480.0,808.0 C490.8,799.8 493.3,797.3 505.0,787.0 C516.7,776.7 535.0,759.3 550.0,746.0 C565.0,732.7 580.0,719.7 595.0,707.0 C610.0,694.3 625.0,682.2 640.0,670.0 C655.0,657.8 674.2,642.5 685.0,634.0 C695.8,625.5 701.7,621.5 705.0,619.0 L745.0,642.0 C741.2,644.8 732.0,651.5 722.0,659.0 C712.0,666.5 698.7,676.3 685.0,687.0 C671.3,697.7 655.0,710.8 640.0,723.0 C625.0,735.2 610.0,747.7 595.0,760.0 C580.0,772.3 565.0,784.8 550.0,797.0 C535.0,809.2 516.7,824.2 505.0,833.0 C493.3,841.8 487.5,844.8 480.0,850.0 C472.5,855.2 466.7,859.3 460.0,864.0 C453.3,868.7 446.7,873.5 440.0,878.0 C433.3,882.5 426.7,886.7 420.0,891.0 C413.3,895.3 406.7,899.8 400.0,904.0 C393.3,908.2 383.3,914.0 380.0,916.0Z" fill="#8d0da4" filter="url(#b1)"/>
<path d="M262.0,990.0 C267.3,985.7 280.8,974.2 294.0,964.0 C307.2,953.8 327.5,938.5 341.0,929.0 C354.5,919.5 361.8,914.8 375.0,907.0 C388.2,899.2 412.5,886.2 420.0,882.0" fill="none" stroke="#a3209a" stroke-width="10" stroke-linecap="round" filter="url(#b4)" opacity="0.5"/>
<path d="M294.0,962.4 C298.0,959.3 310.2,949.9 318.0,944.0 C325.8,938.1 331.5,933.5 341.0,927.0 C350.5,920.5 369.3,908.7 375.0,905.0" fill="none" stroke="#cf4b74" stroke-width="4.5" stroke-linecap="round" filter="url(#b2)"/>
<path d="M341.0,927.0 C346.7,923.3 365.2,911.0 375.0,905.0 C384.8,899.0 392.5,895.3 400.0,891.0 C407.5,886.7 413.3,883.2 420.0,879.0 C426.7,874.8 433.3,870.5 440.0,866.0 C446.7,861.5 453.3,856.7 460.0,852.0 C466.7,847.3 472.5,843.2 480.0,838.0 C487.5,832.8 493.3,829.5 505.0,821.0 C516.7,812.5 535.0,798.7 550.0,787.0 C565.0,775.3 580.0,763.0 595.0,751.0 C610.0,739.0 625.0,726.9 640.0,715.0 C655.0,703.1 671.3,690.0 685.0,679.5 C698.7,669.0 712.0,659.4 722.0,652.0 C732.0,644.6 741.2,637.8 745.0,635.0" fill="none" stroke="#ef7d50" stroke-width="5.5" stroke-linecap="round" filter="url(#b1)"/>
<path d="M615.0,697.0 C620.0,693.3 632.9,683.8 645.0,675.0 C657.1,666.2 679.0,650.2 687.5,644.0 C696.0,637.8 690.6,642.0 696.0,638.0 C701.4,634.0 716.0,623.0 720.0,620.0" fill="none" stroke="#ea7357" stroke-width="6" stroke-linecap="round" filter="url(#b2)"/>
<path d="M434.0,872.0 C436.0,869.3 441.7,861.3 446.0,856.0 C450.3,850.7 454.3,845.3 460.0,840.0 C465.7,834.7 472.5,829.8 480.0,824.0 C487.5,818.2 493.3,814.8 505.0,805.0 C516.7,795.2 535.0,778.0 550.0,765.0 C565.0,752.0 580.0,739.5 595.0,727.0 C610.0,714.5 625.0,702.0 640.0,690.0 C655.0,678.0 673.3,663.8 685.0,655.0 C696.7,646.2 701.7,643.0 710.0,637.0 C718.3,631.0 730.8,622.0 735.0,619.0 L745.0,629.0 C741.2,631.8 732.0,638.7 722.0,646.0 C712.0,653.3 698.7,662.3 685.0,672.8 C671.3,683.2 655.0,696.8 640.0,708.8 C625.0,720.8 610.0,732.4 595.0,744.8 C580.0,757.1 565.0,771.0 550.0,783.0 C535.0,795.0 516.7,808.5 505.0,817.0 C493.3,825.5 487.5,828.8 480.0,834.0 C472.5,839.2 465.7,843.3 460.0,848.0 C454.3,852.7 450.3,858.0 446.0,862.0 C441.7,866.0 436.0,870.3 434.0,872.0Z" fill="#fff"/>
</g>
</g></g>
<rect x="75.3" y="636.7" width="646.7" height="524.1" fill="none" stroke="#c8c8c8" stroke-width="3"/>
<g clip-path="url(#cpE)"><g filter="url(#b1)">
<clipPath id="olE"><path d="M803.0,1029.0 C805.7,1027.7 804.5,1028.0 819.0,1021.0 C833.5,1014.0 863.2,1000.3 890.0,987.0 C916.8,973.7 957.5,953.0 980.0,941.0 C1002.5,929.0 1010.0,924.2 1025.0,915.0 C1040.0,905.8 1055.8,895.9 1070.0,885.5 C1084.2,875.1 1095.8,865.0 1110.0,852.8 C1124.2,840.5 1140.0,828.0 1155.0,812.2 C1170.0,796.5 1185.0,775.9 1200.0,758.2 C1215.0,740.6 1230.0,723.0 1245.0,706.5 C1260.0,690.0 1278.8,670.7 1290.0,659.2 C1301.2,647.8 1305.7,644.5 1312.5,638.0 C1319.3,631.5 1327.9,623.0 1331.0,620.0 L1500.0,620.0 L1490.0,742.0 C1485.5,745.1 1473.8,752.9 1463.0,760.5 C1452.2,768.1 1438.8,777.8 1425.0,787.5 C1411.2,797.2 1395.0,808.5 1380.0,819.0 C1365.0,829.5 1350.0,840.3 1335.0,850.5 C1320.0,860.7 1308.3,869.2 1290.0,880.0 C1271.7,890.8 1246.7,903.3 1225.0,915.0 C1203.3,926.7 1178.3,940.4 1160.0,950.0 C1141.7,959.6 1130.0,965.4 1115.0,972.5 C1100.0,979.6 1085.0,986.4 1070.0,992.8 C1055.0,999.1 1040.0,1005.1 1025.0,1010.8 C1010.0,1016.4 995.0,1020.9 980.0,1026.5 C965.0,1032.1 950.0,1037.8 935.0,1044.5 C920.0,1051.2 905.0,1059.3 890.0,1067.0 C875.0,1074.7 856.8,1085.2 845.0,1090.6 C833.2,1096.0 826.0,1097.0 819.0,1099.6 C812.0,1102.2 805.7,1104.9 803.0,1106.0Z"/></clipPath>
<path d="M803.0,1029.0 C805.7,1027.7 804.5,1028.0 819.0,1021.0 C833.5,1014.0 863.2,1000.3 890.0,987.0 C916.8,973.7 957.5,953.0 980.0,941.0 C1002.5,929.0 1010.0,924.2 1025.0,915.0 C1040.0,905.8 1055.8,895.9 1070.0,885.5 C1084.2,875.1 1095.8,865.0 1110.0,852.8 C1124.2,840.5 1140.0,828.0 1155.0,812.2 C1170.0,796.5 1185.0,775.9 1200.0,758.2 C1215.0,740.6 1230.0,723.0 1245.0,706.5 C1260.0,690.0 1278.8,670.7 1290.0,659.2 C1301.2,647.8 1305.7,644.5 1312.5,638.0 C1319.3,631.5 1327.9,623.0 1331.0,620.0 L1500.0,620.0 L1490.0,742.0 C1485.5,745.1 1473.8,752.9 1463.0,760.5 C1452.2,768.1 1438.8,777.8 1425.0,787.5 C1411.2,797.2 1395.0,808.5 1380.0,819.0 C1365.0,829.5 1350.0,840.3 1335.0,850.5 C1320.0,860.7 1308.3,869.2 1290.0,880.0 C1271.7,890.8 1246.7,903.3 1225.0,915.0 C1203.3,926.7 1178.3,940.4 1160.0,950.0 C1141.7,959.6 1130.0,965.4 1115.0,972.5 C1100.0,979.6 1085.0,986.4 1070.0,992.8 C1055.0,999.1 1040.0,1005.1 1025.0,1010.8 C1010.0,1016.4 995.0,1020.9 980.0,1026.5 C965.0,1032.1 950.0,1037.8 935.0,1044.5 C920.0,1051.2 905.0,1059.3 890.0,1067.0 C875.0,1074.7 856.8,1085.2 845.0,1090.6 C833.2,1096.0 826.0,1097.0 819.0,1099.6 C812.0,1102.2 805.7,1104.9 803.0,1106.0Z" fill="#1b088c"/>
<g clip-path="url(#olE)">
<path d="M968.0,1027.7 C974.7,1024.0 994.8,1013.9 1008.2,1005.0 C1021.5,996.2 1034.9,984.7 1048.3,974.5 C1061.7,964.3 1075.1,952.9 1088.5,943.9 C1101.8,934.9 1115.2,928.1 1128.6,920.5 C1142.0,913.0 1155.4,906.0 1168.8,898.6 C1182.2,891.2 1195.5,884.3 1208.9,876.2 C1222.3,868.2 1235.7,859.2 1249.1,850.1 C1262.5,841.1 1275.8,831.7 1289.2,822.0 C1302.6,812.3 1316.0,802.0 1329.4,792.0 C1342.8,781.9 1356.2,772.1 1369.5,761.8 C1382.9,751.6 1396.3,740.7 1409.7,730.2 C1423.1,719.8 1436.5,709.2 1449.8,698.9 C1463.2,688.5 1483.3,673.1 1490.0,668.0 L1490.0,710.5 C1483.3,715.4 1463.2,729.9 1449.8,739.7 C1436.5,749.5 1423.1,759.5 1409.7,769.4 C1396.3,779.3 1382.9,789.3 1369.5,799.1 C1356.2,808.9 1342.8,818.5 1329.4,828.0 C1316.0,837.5 1302.6,847.2 1289.2,855.9 C1275.8,864.7 1262.5,872.5 1249.1,880.5 C1235.7,888.5 1222.3,896.5 1208.9,904.1 C1195.5,911.7 1182.2,918.9 1168.8,926.1 C1155.4,933.2 1142.0,940.2 1128.6,947.2 C1115.2,954.2 1101.8,960.7 1088.5,968.0 C1075.1,975.3 1061.7,983.6 1048.3,991.1 C1034.9,998.7 1021.5,1006.5 1008.2,1013.2 C994.8,1020.0 974.7,1028.5 968.0,1031.5Z" fill="#2d0595" filter="url(#b8)"/>
<path d="M803.0,1023.0 C805.7,1021.7 804.5,1021.8 819.0,1015.0 C833.5,1008.2 863.2,995.2 890.0,982.0 C916.8,968.8 957.5,948.0 980.0,936.0 C1002.5,924.0 1010.0,919.3 1025.0,910.0 C1040.0,900.7 1057.5,888.7 1070.0,880.0 C1082.5,871.3 1090.0,864.7 1100.0,858.0 C1110.0,851.3 1120.8,846.5 1130.0,840.0 C1139.2,833.5 1143.3,829.2 1155.0,819.0 C1166.7,808.8 1185.0,791.9 1200.0,779.0 C1215.0,766.1 1233.2,751.3 1245.0,741.5 C1256.8,731.7 1263.5,725.9 1271.0,720.0 C1278.5,714.1 1279.3,713.5 1290.0,706.0 C1300.7,698.5 1320.0,685.2 1335.0,675.0 C1350.0,664.8 1370.7,651.2 1380.0,645.0 C1389.3,638.8 1385.7,641.7 1391.0,638.0 C1396.3,634.3 1408.5,625.5 1412.0,623.0 L1490.0,672.0 C1485.5,675.5 1473.8,684.4 1463.0,692.8 C1452.2,701.1 1438.8,711.1 1425.0,722.0 C1411.2,732.9 1395.0,746.4 1380.0,758.0 C1365.0,769.6 1350.0,780.5 1335.0,791.8 C1320.0,803.0 1305.0,814.6 1290.0,825.5 C1275.0,836.4 1260.0,846.9 1245.0,857.0 C1230.0,867.1 1214.2,877.6 1200.0,886.0 C1185.8,894.4 1174.2,899.6 1160.0,907.2 C1145.8,914.9 1130.0,923.4 1115.0,932.0 C1100.0,940.6 1081.2,951.1 1070.0,959.0 C1058.8,966.9 1055.0,972.9 1047.5,979.2 C1040.0,985.6 1032.5,991.6 1025.0,997.2 C1017.5,1002.9 1013.0,1006.7 1002.5,1013.0 C992.0,1019.3 973.2,1029.2 962.0,1035.0 C950.8,1040.8 947.0,1041.7 935.0,1047.5 C923.0,1053.3 905.0,1062.2 890.0,1070.0 C875.0,1077.8 856.8,1088.5 845.0,1094.0 C833.2,1099.5 826.0,1100.5 819.0,1103.0 C812.0,1105.5 805.7,1108.0 803.0,1109.0Z" fill="#8308a6" filter="url(#b1)"/>
<path d="M1330.0,672.0 C1335.7,668.8 1353.8,658.2 1364.0,652.5 C1374.2,646.8 1382.5,643.1 1391.0,638.0 C1399.5,632.9 1411.0,624.7 1415.0,622.0" fill="none" stroke="#c03a83" stroke-width="2.5" stroke-linecap="round" filter="url(#b1)"/>
<path d="M1018.0,972.5 C1026.7,966.5 1053.8,947.0 1070.0,936.5 C1086.2,926.0 1100.0,917.7 1115.0,909.5 C1130.0,901.3 1148.3,894.0 1160.0,887.5 C1171.7,881.0 1180.8,873.4 1185.0,870.6 L1200.0,884.2 C1193.3,887.1 1174.2,894.8 1160.0,901.6 C1145.8,908.4 1130.0,917.6 1115.0,925.2 C1100.0,932.9 1084.2,940.1 1070.0,947.8 C1055.8,955.4 1036.7,967.1 1030.0,971.0Z" fill="#c8437b" filter="url(#b4)" opacity="0.6"/>
<path d="M1018.0,972.5 C1026.7,966.5 1053.8,947.0 1070.0,936.5 C1086.2,926.0 1100.0,917.7 1115.0,909.5 C1130.0,901.3 1148.3,894.0 1160.0,887.5 C1171.7,881.0 1176.7,876.5 1185.0,870.6 C1193.3,864.7 1201.7,858.2 1210.0,851.9 C1218.3,845.5 1226.7,838.8 1235.0,832.5 C1243.3,826.2 1250.8,821.3 1260.0,814.4 C1269.2,807.5 1277.5,800.6 1290.0,791.0 C1302.5,781.4 1319.2,768.8 1335.0,757.0 C1350.8,745.2 1376.7,726.2 1385.0,720.0" fill="none" stroke="#ea7457" stroke-width="4.2" stroke-linecap="round" filter="url(#b1)"/>
<path d="M1385.0,720.0 C1391.7,715.1 1412.0,700.1 1425.0,690.8 C1438.0,681.4 1456.7,668.2 1463.0,663.8" fill="none" stroke="#c8437b" stroke-width="3" stroke-linecap="round" filter="url(#b1)"/>
<path d="M1030.0,971.0 C1036.7,967.1 1055.8,955.4 1070.0,947.8 C1084.2,940.1 1100.0,932.9 1115.0,925.2 C1130.0,917.6 1145.8,908.4 1160.0,901.6 C1174.2,894.8 1189.6,889.5 1200.0,884.2 C1210.4,879.0 1215.0,874.9 1222.5,870.0 C1230.0,865.1 1233.8,862.8 1245.0,855.0 C1256.2,847.2 1275.0,834.4 1290.0,823.5 C1305.0,812.6 1320.0,801.0 1335.0,789.8 C1350.0,778.5 1369.2,764.3 1380.0,756.0 C1390.8,747.7 1392.5,746.0 1400.0,740.0 C1407.5,734.0 1414.5,728.2 1425.0,720.0 C1435.5,711.8 1452.2,699.1 1463.0,690.8 C1473.8,682.4 1485.5,673.5 1490.0,670.0" fill="none" stroke="#ea7457" stroke-width="3.6" stroke-linecap="round" filter="url(#b1)"/>
<path d="M1040.0,962.0 C1052.5,954.5 1095.0,928.3 1115.0,917.0 C1135.0,905.7 1146.3,901.5 1160.0,894.0 C1173.7,886.5 1185.3,879.7 1197.0,872.0 C1208.7,864.3 1224.5,852.0 1230.0,848.0" fill="none" stroke="#e16462" stroke-width="2.5" stroke-linecap="round" filter="url(#b1)"/>
<path d="M1163.8,877.5 C1167.3,874.0 1177.3,864.0 1185.0,856.2 C1192.7,848.5 1200.3,840.6 1210.0,831.2 C1219.7,821.9 1229.7,811.9 1243.0,800.0 C1256.3,788.1 1273.8,773.3 1290.0,760.0 C1306.2,746.7 1325.0,731.9 1340.0,720.0 C1355.0,708.1 1365.8,699.4 1380.0,688.5 C1394.2,677.6 1413.8,663.2 1425.0,654.8 C1436.2,646.3 1439.7,643.8 1447.5,638.0 C1455.3,632.2 1467.9,623.0 1472.0,620.0 L1490.0,625.0 C1485.5,628.5 1473.8,637.2 1463.0,645.8 C1452.2,654.2 1440.3,663.6 1425.0,676.0 C1409.7,688.4 1386.0,708.0 1371.0,720.0 C1356.0,732.0 1348.5,737.0 1335.0,748.0 C1321.5,759.0 1302.5,775.7 1290.0,786.0 C1277.5,796.3 1271.2,801.6 1260.0,810.0 C1248.8,818.4 1234.0,827.9 1222.5,836.2 C1211.0,844.6 1201.0,852.9 1191.2,860.0 C1181.5,867.1 1168.3,875.6 1163.8,878.8Z" fill="#fff"/>
</g>
</g></g>
<rect x="819.3" y="636.7" width="646.7" height="524.1" fill="none" stroke="#c8c8c8" stroke-width="3"/>
<g filter="url(#bt)">
<text class="tt" x="398.6" y="632.0" text-anchor="middle">2 <tspan class="it">kA</tspan></text>
<text class="big" x="95.8" y="693.3">B</text>
<line x1="71.8" x2="75.3" y1="1142.7" y2="1142.7" stroke="#aaa" stroke-width="1.2"/>
<text class="tk" x="68.5" y="1149.1" text-anchor="end">220</text>
<line x1="71.8" x2="75.3" y1="1070.5" y2="1070.5" stroke="#aaa" stroke-width="1.2"/>
<text class="tk" x="68.5" y="1076.9" text-anchor="end">240</text>
<line x1="71.8" x2="75.3" y1="998.2" y2="998.2" stroke="#aaa" stroke-width="1.2"/>
<text class="tk" x="68.5" y="1004.6" text-anchor="end">260</text>
<line x1="71.8" x2="75.3" y1="926.0" y2="926.0" stroke="#aaa" stroke-width="1.2"/>
<text class="tk" x="68.5" y="932.4" text-anchor="end">280</text>
<line x1="71.8" x2="75.3" y1="853.7" y2="853.7" stroke="#aaa" stroke-width="1.2"/>
<text class="tk" x="68.5" y="860.1" text-anchor="end">300</text>
<line x1="71.8" x2="75.3" y1="781.5" y2="781.5" stroke="#aaa" stroke-width="1.2"/>
<text class="tk" x="68.5" y="787.9" text-anchor="end">320</text>
<line x1="71.8" x2="75.3" y1="709.2" y2="709.2" stroke="#aaa" stroke-width="1.2"/>
<text class="tk" x="68.5" y="715.6" text-anchor="end">340</text>
<line x1="71.8" x2="75.3" y1="637.0" y2="637.0" stroke="#aaa" stroke-width="1.2"/>
<text class="tk" x="68.5" y="643.4" text-anchor="end">360</text>
<line x1="75.3" x2="75.3" y1="1160.8" y2="1164.3" stroke="#aaa" stroke-width="1.2"/>
<line x1="165.1" x2="165.1" y1="1160.8" y2="1164.3" stroke="#aaa" stroke-width="1.2"/>
<line x1="254.9" x2="254.9" y1="1160.8" y2="1164.3" stroke="#aaa" stroke-width="1.2"/>
<line x1="344.8" x2="344.8" y1="1160.8" y2="1164.3" stroke="#aaa" stroke-width="1.2"/>
<line x1="434.6" x2="434.6" y1="1160.8" y2="1164.3" stroke="#aaa" stroke-width="1.2"/>
<line x1="524.4" x2="524.4" y1="1160.8" y2="1164.3" stroke="#aaa" stroke-width="1.2"/>
<line x1="614.2" x2="614.2" y1="1160.8" y2="1164.3" stroke="#aaa" stroke-width="1.2"/>
<line x1="704.0" x2="704.0" y1="1160.8" y2="1164.3" stroke="#aaa" stroke-width="1.2"/>
<text class="lb" transform="translate(20.8,898.4) rotate(-90)" text-anchor="middle">Θ <tspan class="it">[deg]</tspan></text>
<text class="tt" x="1142.7" y="632.0" text-anchor="middle">8 <tspan class="it">kA</tspan></text>
<text class="big" x="839.8" y="693.3">E</text>
<line x1="815.8" x2="819.3" y1="1142.7" y2="1142.7" stroke="#aaa" stroke-width="1.2"/>
<line x1="815.8" x2="819.3" y1="1070.5" y2="1070.5" stroke="#aaa" stroke-width="1.2"/>
<line x1="815.8" x2="819.3" y1="998.2" y2="998.2" stroke="#aaa" stroke-width="1.2"/>
<line x1="815.8" x2="819.3" y1="926.0" y2="926.0" stroke="#aaa" stroke-width="1.2"/>
<line x1="815.8" x2="819.3" y1="853.7" y2="853.7" stroke="#aaa" stroke-width="1.2"/>
<line x1="815.8" x2="819.3" y1="781.5" y2="781.5" stroke="#aaa" stroke-width="1.2"/>
<line x1="815.8" x2="819.3" y1="709.2" y2="709.2" stroke="#aaa" stroke-width="1.2"/>
<line x1="815.8" x2="819.3" y1="637.0" y2="637.0" stroke="#aaa" stroke-width="1.2"/>
<line x1="819.3" x2="819.3" y1="1160.8" y2="1164.3" stroke="#aaa" stroke-width="1.2"/>
<line x1="909.1" x2="909.1" y1="1160.8" y2="1164.3" stroke="#aaa" stroke-width="1.2"/>
<line x1="998.9" x2="998.9" y1="1160.8" y2="1164.3" stroke="#aaa" stroke-width="1.2"/>
<line x1="1088.8" x2="1088.8" y1="1160.8" y2="1164.3" stroke="#aaa" stroke-width="1.2"/>
<line x1="1178.6" x2="1178.6" y1="1160.8" y2="1164.3" stroke="#aaa" stroke-width="1.2"/>
<line x1="1268.4" x2="1268.4" y1="1160.8" y2="1164.3" stroke="#aaa" stroke-width="1.2"/>
<line x1="1358.2" x2="1358.2" y1="1160.8" y2="1164.3" stroke="#aaa" stroke-width="1.2"/>
<line x1="1448.0" x2="1448.0" y1="1160.8" y2="1164.3" stroke="#aaa" stroke-width="1.2"/>
<rect x="1504.0" y="637.0" width="27.8" height="523.8" fill="url(#plasma)"/>
<rect x="1504.0" y="637.0" width="27.8" height="523.8" fill="none" stroke="#b8b0c8" stroke-opacity="0.55" stroke-width="1.6"/>
<line x1="1531.8" x2="1535.3" y1="1160.8" y2="1160.8" stroke="#999" stroke-width="1.2"/>
<text class="tk" x="1539.4" y="1168.2">10<tspan class="sup" dy="-8.5">0</tspan></text>
<line x1="1531.8" x2="1535.3" y1="1002.1" y2="1002.1" stroke="#999" stroke-width="1.2"/>
<text class="tk" x="1539.4" y="1009.5">10<tspan class="sup" dy="-8.5">1</tspan></text>
<line x1="1531.8" x2="1535.3" y1="843.4" y2="843.4" stroke="#999" stroke-width="1.2"/>
<text class="tk" x="1539.4" y="850.8">10<tspan class="sup" dy="-8.5">2</tspan></text>
<line x1="1531.8" x2="1535.3" y1="684.8" y2="684.8" stroke="#999" stroke-width="1.2"/>
<text class="tk" x="1539.4" y="692.2">10<tspan class="sup" dy="-8.5">3</tspan></text>
<text class="lb" transform="translate(1589.6,899.4) rotate(-90)" text-anchor="middle">Connection Length [m]</text>
</g>
<g clip-path="url(#cpC)"><g filter="url(#b1)">
<clipPath id="olC"><path d="M58.0,1647.0 C61.1,1645.7 61.6,1646.1 76.9,1638.9 C92.2,1631.7 122.8,1617.3 150.0,1604.0 C177.2,1590.7 217.5,1570.4 240.0,1559.0 C262.5,1547.6 270.0,1544.2 285.0,1535.4 C300.0,1526.6 315.8,1516.4 330.0,1506.0 C344.2,1495.6 355.8,1486.0 370.0,1473.0 C384.2,1460.0 400.0,1444.1 415.0,1428.0 C430.0,1411.9 445.0,1394.2 460.0,1376.2 C475.0,1358.2 490.0,1338.4 505.0,1320.0 C520.0,1301.6 538.0,1279.3 550.0,1266.0 C562.0,1252.7 569.3,1247.3 577.0,1240.0 C584.7,1232.7 592.8,1225.0 596.0,1222.0 L760.0,1222.0 L745.0,1341.0 C741.2,1343.9 732.0,1350.9 722.0,1358.2 C712.0,1365.6 698.7,1375.5 685.0,1385.2 C671.3,1395.0 655.0,1406.2 640.0,1416.8 C625.0,1427.2 610.0,1438.0 595.0,1448.2 C580.0,1458.5 568.3,1466.2 550.0,1478.0 C531.7,1489.8 506.7,1506.2 485.0,1519.0 C463.3,1531.8 438.3,1544.8 420.0,1554.5 C401.7,1564.2 390.0,1569.9 375.0,1577.0 C360.0,1584.1 345.0,1590.9 330.0,1597.2 C315.0,1603.6 300.0,1609.6 285.0,1615.2 C270.0,1620.9 255.0,1625.0 240.0,1631.0 C225.0,1637.0 210.0,1644.3 195.0,1651.2 C180.0,1658.2 165.0,1665.1 150.0,1672.6 C135.0,1680.1 117.2,1690.4 105.0,1696.2 C92.8,1702.1 84.7,1704.5 76.9,1707.5 C69.1,1710.5 61.1,1712.9 58.0,1714.0Z"/></clipPath>
<path d="M58.0,1647.0 C61.1,1645.7 61.6,1646.1 76.9,1638.9 C92.2,1631.7 122.8,1617.3 150.0,1604.0 C177.2,1590.7 217.5,1570.4 240.0,1559.0 C262.5,1547.6 270.0,1544.2 285.0,1535.4 C300.0,1526.6 315.8,1516.4 330.0,1506.0 C344.2,1495.6 355.8,1486.0 370.0,1473.0 C384.2,1460.0 400.0,1444.1 415.0,1428.0 C430.0,1411.9 445.0,1394.2 460.0,1376.2 C475.0,1358.2 490.0,1338.4 505.0,1320.0 C520.0,1301.6 538.0,1279.3 550.0,1266.0 C562.0,1252.7 569.3,1247.3 577.0,1240.0 C584.7,1232.7 592.8,1225.0 596.0,1222.0 L760.0,1222.0 L745.0,1341.0 C741.2,1343.9 732.0,1350.9 722.0,1358.2 C712.0,1365.6 698.7,1375.5 685.0,1385.2 C671.3,1395.0 655.0,1406.2 640.0,1416.8 C625.0,1427.2 610.0,1438.0 595.0,1448.2 C580.0,1458.5 568.3,1466.2 550.0,1478.0 C531.7,1489.8 506.7,1506.2 485.0,1519.0 C463.3,1531.8 438.3,1544.8 420.0,1554.5 C401.7,1564.2 390.0,1569.9 375.0,1577.0 C360.0,1584.1 345.0,1590.9 330.0,1597.2 C315.0,1603.6 300.0,1609.6 285.0,1615.2 C270.0,1620.9 255.0,1625.0 240.0,1631.0 C225.0,1637.0 210.0,1644.3 195.0,1651.2 C180.0,1658.2 165.0,1665.1 150.0,1672.6 C135.0,1680.1 117.2,1690.4 105.0,1696.2 C92.8,1702.1 84.7,1704.5 76.9,1707.5 C69.1,1710.5 61.1,1712.9 58.0,1714.0Z" fill="#1b088c"/>
<g clip-path="url(#olC)">
<path d="M215.0,1637.7 C221.8,1633.6 242.2,1622.2 255.8,1613.0 C269.4,1603.9 282.9,1593.1 296.5,1582.9 C310.1,1572.8 323.7,1562.0 337.3,1552.1 C350.9,1542.3 364.5,1532.7 378.1,1523.9 C391.7,1515.1 405.3,1507.1 418.8,1499.4 C432.4,1491.8 446.0,1486.7 459.6,1477.8 C473.2,1468.9 486.8,1456.8 500.4,1446.2 C514.0,1435.6 527.6,1424.7 541.2,1414.1 C554.7,1403.5 568.3,1393.1 581.9,1382.6 C595.5,1372.1 609.1,1361.5 622.7,1351.0 C636.3,1340.4 649.9,1330.0 663.5,1319.5 C677.1,1309.0 690.6,1298.7 704.2,1288.1 C717.8,1277.5 738.2,1261.4 745.0,1256.0 L745.0,1304.5 C738.2,1309.7 717.8,1325.4 704.2,1335.6 C690.6,1345.8 677.1,1355.8 663.5,1365.8 C649.9,1375.8 636.3,1385.7 622.7,1395.6 C609.1,1405.5 595.5,1415.5 581.9,1425.3 C568.3,1435.0 554.7,1444.5 541.2,1454.1 C527.6,1463.7 514.0,1473.4 500.4,1482.7 C486.8,1492.0 473.2,1501.7 459.6,1509.9 C446.0,1518.1 432.4,1524.5 418.8,1531.8 C405.3,1539.2 391.7,1546.5 378.1,1554.1 C364.5,1561.6 350.9,1569.3 337.3,1576.9 C323.7,1584.6 310.1,1592.5 296.5,1600.0 C282.9,1607.4 269.4,1614.7 255.8,1621.7 C242.2,1628.7 221.8,1638.6 215.0,1642.0Z" fill="#2d0595" filter="url(#b8)"/>
<path d="M58.0,1641.0 C61.1,1639.7 61.6,1640.0 76.9,1633.0 C92.2,1626.0 122.8,1612.2 150.0,1599.0 C177.2,1585.8 217.5,1565.5 240.0,1554.0 C262.5,1542.5 270.0,1538.7 285.0,1530.0 C300.0,1521.3 317.5,1509.8 330.0,1502.0 C342.5,1494.2 351.7,1488.7 360.0,1483.0 C368.3,1477.3 370.0,1476.2 380.0,1468.0 C390.0,1459.8 406.7,1445.3 420.0,1434.0 C433.3,1422.7 445.5,1412.3 460.0,1400.0 C474.5,1387.7 492.0,1372.3 507.0,1360.0 C522.0,1347.7 535.3,1337.3 550.0,1326.0 C564.7,1314.7 580.0,1303.2 595.0,1292.0 C610.0,1280.8 628.3,1267.2 640.0,1258.5 C651.7,1249.8 656.7,1246.2 665.0,1240.0 C673.3,1233.8 685.8,1224.2 690.0,1221.0 L745.0,1260.0 C741.2,1263.1 732.0,1270.6 722.0,1278.4 C712.0,1286.2 698.7,1296.5 685.0,1307.0 C671.3,1317.5 655.0,1329.9 640.0,1341.5 C625.0,1353.1 611.7,1363.6 595.0,1376.5 C578.3,1389.4 555.0,1407.3 540.0,1419.0 C525.0,1430.7 517.8,1436.3 505.0,1446.5 C492.2,1456.7 477.2,1470.6 463.0,1480.0 C448.8,1489.4 434.7,1494.5 420.0,1502.8 C405.3,1511.0 386.2,1522.6 375.0,1529.8 C363.8,1536.9 360.0,1540.2 352.5,1545.5 C345.0,1550.8 337.5,1555.6 330.0,1561.2 C322.5,1566.9 315.0,1573.6 307.5,1579.2 C300.0,1584.9 292.5,1589.4 285.0,1595.0 C277.5,1600.6 273.8,1605.5 262.5,1613.0 C251.2,1620.5 228.8,1633.2 217.5,1640.0 C206.2,1646.8 206.2,1648.0 195.0,1654.0 C183.8,1660.0 165.0,1668.3 150.0,1676.0 C135.0,1683.7 117.2,1694.2 105.0,1700.0 C92.8,1705.8 84.7,1708.2 76.9,1711.0 C69.1,1713.8 61.1,1716.0 58.0,1717.0Z" fill="#8308a6" filter="url(#b1)"/>
<path d="M280.0,1576.0 C285.0,1572.0 301.3,1559.2 310.0,1552.0 C318.7,1544.8 327.5,1538.0 332.0,1533.0 C336.5,1528.0 329.8,1527.3 337.0,1522.0 C344.2,1516.7 361.2,1510.0 375.0,1501.0 C388.8,1492.0 408.3,1476.2 420.0,1468.0 C431.7,1459.8 440.8,1454.7 445.0,1452.0 L445.0,1481.0 C440.8,1484.3 431.7,1493.5 420.0,1501.0 C408.3,1508.5 390.0,1518.2 375.0,1526.0 C360.0,1533.8 340.8,1542.0 330.0,1548.0 C319.2,1554.0 318.3,1557.2 310.0,1562.0 C301.7,1566.8 285.0,1574.5 280.0,1577.0Z" fill="#c9447a" filter="url(#b2)"/>
<path d="M288.0,1570.0 C292.5,1566.7 307.2,1555.8 315.0,1550.0 C322.8,1544.2 330.5,1539.0 335.0,1535.0 C339.5,1531.0 335.3,1530.7 342.0,1526.0 C348.7,1521.3 362.0,1515.7 375.0,1507.0 C388.0,1498.3 409.8,1481.3 420.0,1474.0 C430.2,1466.7 433.3,1464.8 436.0,1463.0 L436.0,1483.0 C433.3,1485.2 430.2,1489.7 420.0,1496.0 C409.8,1502.3 389.2,1513.2 375.0,1521.0 C360.8,1528.8 345.0,1537.0 335.0,1543.0 C325.0,1549.0 322.8,1552.3 315.0,1557.0 C307.2,1561.7 292.5,1568.7 288.0,1571.0Z" fill="#f0804e" filter="url(#b2)"/>
<path d="M345.0,1528.0 C350.0,1525.3 364.2,1518.7 375.0,1512.0 C385.8,1505.3 404.2,1492.0 410.0,1488.0" fill="none" stroke="#fca338" stroke-width="3" stroke-linecap="round" filter="url(#b1)"/>
<path d="M350.0,1535.0 C355.8,1531.8 372.5,1523.7 385.0,1516.0 C397.5,1508.3 418.3,1493.5 425.0,1489.0" fill="none" stroke="#fca338" stroke-width="2.5" stroke-linecap="round" filter="url(#b1)"/>
<path d="M392.0,1500.0 C396.7,1498.0 410.0,1492.3 420.0,1488.0 C430.0,1483.7 446.7,1476.3 452.0,1474.0" fill="none" stroke="#f58f44" stroke-width="3" stroke-linecap="round" filter="url(#b1)"/>
<path d="M400.0,1485.0 C404.2,1482.5 417.5,1475.2 425.0,1470.0 C432.5,1464.8 438.8,1459.5 445.0,1454.0 C451.2,1448.5 459.2,1439.8 462.0,1437.0" fill="none" stroke="#ee7a52" stroke-width="3" stroke-linecap="round" filter="url(#b1)"/>
<path d="M430.0,1475.0 C433.3,1471.7 443.3,1461.7 450.0,1455.0 C456.7,1448.3 460.8,1443.8 470.0,1435.0 C479.2,1426.2 493.3,1412.8 505.0,1402.0 C516.7,1391.2 525.0,1382.7 540.0,1370.0 C555.0,1357.3 578.3,1339.2 595.0,1326.0 C611.7,1312.8 625.0,1302.7 640.0,1291.0 C655.0,1279.3 674.2,1264.5 685.0,1256.0 C695.8,1247.5 697.8,1245.7 705.0,1240.0 C712.2,1234.3 724.2,1225.0 728.0,1222.0 L745.0,1227.0 C741.2,1230.1 732.0,1237.7 722.0,1245.8 C712.0,1253.8 698.7,1264.5 685.0,1275.5 C671.3,1286.5 655.0,1299.9 640.0,1312.0 C625.0,1324.1 611.7,1334.7 595.0,1348.0 C578.3,1361.3 555.0,1380.1 540.0,1392.0 C525.0,1403.9 516.7,1410.3 505.0,1419.5 C493.3,1428.7 479.2,1439.9 470.0,1447.0 C460.8,1454.1 456.7,1457.3 450.0,1462.0 C443.3,1466.7 433.3,1472.8 430.0,1475.0Z" fill="#e8738a" stroke="#d6556d" stroke-width="3" stroke-linejoin="round" filter="url(#b1)"/>
<path d="M430.0,1475.0 C433.3,1471.7 443.3,1461.7 450.0,1455.0 C456.7,1448.3 460.8,1443.8 470.0,1435.0 C479.2,1426.2 493.3,1412.8 505.0,1402.0 C516.7,1391.2 525.0,1382.7 540.0,1370.0 C555.0,1357.3 578.3,1339.2 595.0,1326.0 C611.7,1312.8 625.0,1302.7 640.0,1291.0 C655.0,1279.3 674.2,1264.5 685.0,1256.0 C695.8,1247.5 697.8,1245.7 705.0,1240.0 C712.2,1234.3 724.2,1225.0 728.0,1222.0 L745.0,1227.0 C741.2,1230.1 732.0,1237.7 722.0,1245.8 C712.0,1253.8 698.7,1264.5 685.0,1275.5 C671.3,1286.5 655.0,1299.9 640.0,1312.0 C625.0,1324.1 611.7,1334.7 595.0,1348.0 C578.3,1361.3 555.0,1380.1 540.0,1392.0 C525.0,1403.9 516.7,1410.3 505.0,1419.5 C493.3,1428.7 479.2,1439.9 470.0,1447.0 C460.8,1454.1 456.7,1457.3 450.0,1462.0 C443.3,1466.7 433.3,1472.8 430.0,1475.0Z" fill="#fff"/>
</g>
</g></g>
<rect x="75.3" y="1238.0" width="646.7" height="528.3" fill="none" stroke="#c8c8c8" stroke-width="3"/>
<g clip-path="url(#cpF)"><g filter="url(#b1)">
<clipPath id="olF"><path d="M803.0,1631.0 C805.7,1629.7 804.5,1630.1 819.0,1623.0 C833.5,1615.9 863.2,1601.9 890.0,1588.2 C916.8,1574.6 957.5,1553.5 980.0,1541.0 C1002.5,1528.5 1010.0,1523.1 1025.0,1513.0 C1040.0,1502.9 1055.8,1491.4 1070.0,1480.2 C1084.2,1469.1 1095.8,1458.5 1110.0,1446.0 C1124.2,1433.5 1140.0,1420.5 1155.0,1405.5 C1170.0,1390.5 1185.0,1373.2 1200.0,1356.0 C1215.0,1338.8 1230.0,1318.5 1245.0,1302.0 C1260.0,1285.5 1279.5,1267.5 1290.0,1257.0 C1300.5,1246.5 1302.0,1245.0 1308.0,1239.0 C1314.0,1233.0 1323.0,1224.0 1326.0,1221.0 L1500.0,1221.0 L1490.0,1346.0 C1485.5,1349.2 1473.8,1357.3 1463.0,1365.0 C1452.2,1372.7 1438.8,1382.2 1425.0,1392.0 C1411.2,1401.8 1395.0,1413.0 1380.0,1423.5 C1365.0,1434.0 1350.0,1444.8 1335.0,1455.0 C1320.0,1465.2 1308.3,1474.0 1290.0,1485.0 C1271.7,1496.0 1246.7,1509.2 1225.0,1521.0 C1203.3,1532.8 1178.3,1545.9 1160.0,1555.6 C1141.7,1565.3 1130.0,1571.9 1115.0,1579.2 C1100.0,1586.6 1085.0,1593.1 1070.0,1599.5 C1055.0,1605.9 1040.0,1611.9 1025.0,1617.5 C1010.0,1623.1 995.0,1627.4 980.0,1633.2 C965.0,1639.1 950.0,1645.7 935.0,1652.4 C920.0,1659.2 905.0,1666.2 890.0,1673.8 C875.0,1681.2 856.8,1691.8 845.0,1697.4 C833.2,1703.0 826.0,1704.7 819.0,1707.5 C812.0,1710.3 805.7,1712.9 803.0,1714.0Z"/></clipPath>
<path d="M803.0,1631.0 C805.7,1629.7 804.5,1630.1 819.0,1623.0 C833.5,1615.9 863.2,1601.9 890.0,1588.2 C916.8,1574.6 957.5,1553.5 980.0,1541.0 C1002.5,1528.5 1010.0,1523.1 1025.0,1513.0 C1040.0,1502.9 1055.8,1491.4 1070.0,1480.2 C1084.2,1469.1 1095.8,1458.5 1110.0,1446.0 C1124.2,1433.5 1140.0,1420.5 1155.0,1405.5 C1170.0,1390.5 1185.0,1373.2 1200.0,1356.0 C1215.0,1338.8 1230.0,1318.5 1245.0,1302.0 C1260.0,1285.5 1279.5,1267.5 1290.0,1257.0 C1300.5,1246.5 1302.0,1245.0 1308.0,1239.0 C1314.0,1233.0 1323.0,1224.0 1326.0,1221.0 L1500.0,1221.0 L1490.0,1346.0 C1485.5,1349.2 1473.8,1357.3 1463.0,1365.0 C1452.2,1372.7 1438.8,1382.2 1425.0,1392.0 C1411.2,1401.8 1395.0,1413.0 1380.0,1423.5 C1365.0,1434.0 1350.0,1444.8 1335.0,1455.0 C1320.0,1465.2 1308.3,1474.0 1290.0,1485.0 C1271.7,1496.0 1246.7,1509.2 1225.0,1521.0 C1203.3,1532.8 1178.3,1545.9 1160.0,1555.6 C1141.7,1565.3 1130.0,1571.9 1115.0,1579.2 C1100.0,1586.6 1085.0,1593.1 1070.0,1599.5 C1055.0,1605.9 1040.0,1611.9 1025.0,1617.5 C1010.0,1623.1 995.0,1627.4 980.0,1633.2 C965.0,1639.1 950.0,1645.7 935.0,1652.4 C920.0,1659.2 905.0,1666.2 890.0,1673.8 C875.0,1681.2 856.8,1691.8 845.0,1697.4 C833.2,1703.0 826.0,1704.7 819.0,1707.5 C812.0,1710.3 805.7,1712.9 803.0,1714.0Z" fill="#1b088c"/>
<g clip-path="url(#olF)">
<path d="M972.0,1632.6 C978.6,1628.3 998.6,1615.9 1011.8,1607.0 C1025.1,1598.0 1038.4,1588.0 1051.7,1578.6 C1065.0,1569.3 1078.3,1559.7 1091.5,1551.1 C1104.8,1542.5 1118.1,1534.3 1131.4,1527.2 C1144.7,1520.1 1157.9,1515.1 1171.2,1508.7 C1184.5,1502.2 1197.8,1495.8 1211.1,1488.6 C1224.4,1481.4 1237.6,1473.9 1250.9,1465.4 C1264.2,1456.8 1277.5,1447.1 1290.8,1437.4 C1304.1,1427.7 1317.3,1417.5 1330.6,1407.3 C1343.9,1397.1 1357.2,1386.8 1370.5,1376.4 C1383.7,1366.0 1397.0,1355.6 1410.3,1345.0 C1423.6,1334.5 1436.9,1323.6 1450.2,1313.1 C1463.4,1302.6 1483.4,1287.2 1490.0,1282.0 L1490.0,1319.0 C1483.4,1323.9 1463.4,1338.6 1450.2,1348.5 C1436.9,1358.4 1423.6,1368.4 1410.3,1378.3 C1397.0,1388.2 1383.7,1398.0 1370.5,1407.8 C1357.2,1417.6 1343.9,1427.4 1330.6,1436.9 C1317.3,1446.5 1304.1,1456.3 1290.8,1465.1 C1277.5,1473.9 1264.2,1482.0 1250.9,1489.9 C1237.6,1497.7 1224.4,1505.1 1211.1,1512.3 C1197.8,1519.5 1184.5,1526.2 1171.2,1533.0 C1157.9,1539.8 1144.7,1546.0 1131.4,1552.9 C1118.1,1559.8 1104.8,1567.0 1091.5,1574.2 C1078.3,1581.4 1065.0,1588.8 1051.7,1595.9 C1038.4,1603.1 1025.1,1610.3 1011.8,1617.1 C998.6,1623.9 978.6,1633.4 972.0,1636.6Z" fill="#2d0595" filter="url(#b8)"/>
<path d="M803.0,1625.0 C805.7,1623.7 804.5,1624.0 819.0,1617.0 C833.5,1610.0 863.2,1596.5 890.0,1583.0 C916.8,1569.5 957.5,1548.5 980.0,1536.0 C1002.5,1523.5 1010.0,1518.0 1025.0,1508.0 C1040.0,1498.0 1057.5,1485.3 1070.0,1476.0 C1082.5,1466.7 1090.0,1459.3 1100.0,1452.0 C1110.0,1444.7 1120.8,1438.7 1130.0,1432.0 C1139.2,1425.3 1143.3,1421.7 1155.0,1412.0 C1166.7,1402.3 1185.0,1386.8 1200.0,1374.0 C1215.0,1361.2 1234.6,1344.0 1245.0,1335.0 C1255.4,1326.0 1255.0,1326.2 1262.5,1320.0 C1270.0,1313.8 1277.9,1307.3 1290.0,1298.0 C1302.1,1288.7 1321.8,1273.7 1335.0,1264.0 C1348.2,1254.3 1359.8,1246.7 1369.0,1240.0 C1378.2,1233.3 1386.5,1226.7 1390.0,1224.0 L1490.0,1286.0 C1485.5,1289.5 1473.8,1298.5 1463.0,1307.0 C1452.2,1315.5 1435.5,1328.6 1425.0,1337.0 C1414.5,1345.4 1407.5,1351.5 1400.0,1357.5 C1392.5,1363.5 1390.8,1364.6 1380.0,1373.0 C1369.2,1381.4 1350.0,1396.5 1335.0,1408.0 C1320.0,1419.5 1304.2,1431.7 1290.0,1442.0 C1275.8,1452.3 1265.0,1460.5 1250.0,1470.0 C1235.0,1479.5 1215.0,1491.0 1200.0,1499.0 C1185.0,1507.0 1174.2,1511.4 1160.0,1518.0 C1145.8,1524.6 1126.2,1532.7 1115.0,1538.8 C1103.8,1544.8 1100.0,1549.6 1092.5,1554.5 C1085.0,1559.4 1077.5,1562.8 1070.0,1568.0 C1062.5,1573.2 1055.0,1580.4 1047.5,1586.0 C1040.0,1591.6 1032.5,1596.5 1025.0,1601.8 C1017.5,1607.0 1012.2,1611.1 1002.5,1617.5 C992.8,1623.9 977.8,1633.7 966.5,1640.0 C955.2,1646.3 947.8,1649.3 935.0,1655.5 C922.2,1661.7 905.0,1669.4 890.0,1677.0 C875.0,1684.6 856.8,1695.3 845.0,1701.0 C833.2,1706.7 826.0,1708.3 819.0,1711.0 C812.0,1713.7 805.7,1716.0 803.0,1717.0Z" fill="#8308a6" filter="url(#b1)"/>
<path d="M1009.0,1587.0 C1019.2,1580.1 1052.3,1557.5 1070.0,1545.5 C1087.7,1533.5 1100.8,1523.9 1115.0,1515.0 C1129.2,1506.1 1140.8,1499.8 1155.0,1492.0 C1169.2,1484.2 1185.0,1477.3 1200.0,1468.0 C1215.0,1458.7 1237.5,1441.3 1245.0,1436.0 L1241.0,1470.0 C1234.2,1473.8 1213.5,1486.0 1200.0,1493.0 C1186.5,1500.0 1174.2,1505.1 1160.0,1512.0 C1145.8,1518.9 1130.0,1526.4 1115.0,1534.2 C1100.0,1542.1 1084.2,1550.5 1070.0,1559.0 C1055.8,1567.5 1036.7,1580.7 1030.0,1585.0Z" fill="#c4407d" filter="url(#b4)" opacity="0.6"/>
<path d="M1052.0,1511.8 C1058.8,1507.2 1082.8,1491.7 1092.5,1484.8 C1102.2,1477.8 1099.6,1479.1 1110.0,1470.0 C1120.4,1460.9 1140.0,1443.3 1155.0,1430.0 C1170.0,1416.7 1185.0,1402.8 1200.0,1390.0 C1215.0,1377.2 1230.8,1364.7 1245.0,1353.0 C1259.2,1341.3 1270.0,1332.0 1285.0,1320.0 C1300.0,1308.0 1319.2,1293.2 1335.0,1281.0 C1350.8,1268.8 1371.0,1253.8 1380.0,1247.0 C1389.0,1240.2 1384.0,1243.8 1389.0,1240.0 C1394.0,1236.2 1406.5,1226.7 1410.0,1224.0" fill="none" stroke="#d9586a" stroke-width="3" stroke-linecap="round" filter="url(#b1)"/>
<path d="M1030.0,1585.0 C1036.7,1580.7 1055.8,1567.5 1070.0,1559.0 C1084.2,1550.5 1100.0,1542.1 1115.0,1534.2 C1130.0,1526.4 1145.8,1518.9 1160.0,1512.0 C1174.2,1505.1 1186.5,1500.0 1200.0,1493.0 C1213.5,1486.0 1226.0,1479.7 1241.0,1470.0 C1256.0,1460.3 1274.3,1446.7 1290.0,1435.0 C1305.7,1423.3 1320.0,1411.8 1335.0,1400.0 C1350.0,1388.2 1369.2,1372.8 1380.0,1364.0 C1390.8,1355.2 1392.5,1353.7 1400.0,1347.5 C1407.5,1341.3 1414.5,1335.2 1425.0,1327.0 C1435.5,1318.8 1452.2,1306.2 1463.0,1298.0 C1473.8,1289.8 1485.5,1281.3 1490.0,1278.0" fill="none" stroke="#e56a5d" stroke-width="3.4" stroke-linecap="round" filter="url(#b1)"/>
<path d="M1009.0,1587.0 C1019.2,1580.1 1052.3,1557.5 1070.0,1545.5 C1087.7,1533.5 1100.8,1523.9 1115.0,1515.0 C1129.2,1506.1 1140.8,1499.8 1155.0,1492.0 C1169.2,1484.2 1185.0,1477.3 1200.0,1468.0 C1215.0,1458.7 1230.0,1447.3 1245.0,1436.0 C1260.0,1424.7 1275.0,1412.0 1290.0,1400.0 C1305.0,1388.0 1327.5,1370.0 1335.0,1364.0" fill="none" stroke="#e56a5d" stroke-width="3.4" stroke-linecap="round" filter="url(#b1)"/>
<path d="M1335.0,1364.0 C1342.5,1358.0 1365.8,1339.1 1380.0,1328.0 C1394.2,1316.9 1413.8,1302.6 1420.5,1297.5" fill="none" stroke="#b8308b" stroke-width="3" stroke-linecap="round" filter="url(#b1)"/>
<path d="M1060.0,1556.0 C1069.2,1550.8 1098.3,1534.0 1115.0,1525.0 C1131.7,1516.0 1145.8,1509.5 1160.0,1502.0 C1174.2,1494.5 1185.8,1488.3 1200.0,1480.0 C1214.2,1471.7 1230.0,1462.3 1245.0,1452.0 C1260.0,1441.7 1282.5,1423.7 1290.0,1418.0" fill="none" stroke="#ea7457" stroke-width="2.5" stroke-linecap="round" filter="url(#b1)"/>
<path d="M1159.5,1484.2 C1162.9,1480.7 1173.2,1470.0 1180.0,1463.0 C1186.8,1456.0 1189.2,1452.2 1200.0,1442.0 C1210.8,1431.8 1230.0,1415.0 1245.0,1402.0 C1260.0,1389.0 1275.0,1376.5 1290.0,1364.0 C1305.0,1351.5 1320.0,1339.0 1335.0,1326.8 C1350.0,1314.5 1365.0,1302.4 1380.0,1290.8 C1395.0,1279.1 1413.8,1265.5 1425.0,1257.0 C1436.2,1248.5 1439.8,1245.8 1447.5,1240.0 C1455.2,1234.2 1467.1,1225.0 1471.0,1222.0 L1490.0,1230.0 C1485.5,1233.4 1473.8,1242.0 1463.0,1250.2 C1452.2,1258.5 1438.8,1268.6 1425.0,1279.5 C1411.2,1290.4 1395.0,1303.5 1380.0,1315.5 C1365.0,1327.5 1350.0,1339.4 1335.0,1351.5 C1320.0,1363.6 1305.0,1375.9 1290.0,1388.0 C1275.0,1400.1 1260.0,1412.5 1245.0,1424.0 C1230.0,1435.5 1210.8,1449.2 1200.0,1457.0 C1189.2,1464.8 1186.8,1466.5 1180.0,1471.0 C1173.2,1475.5 1162.9,1482.0 1159.5,1484.2Z" fill="#fff"/>
</g>
</g></g>
<rect x="819.3" y="1238.0" width="646.7" height="528.3" fill="none" stroke="#c8c8c8" stroke-width="3"/>
<g filter="url(#bt)">
<text class="tt" x="398.6" y="1233.3" text-anchor="middle">4 <tspan class="it">kA</tspan></text>
<text class="big" x="95.8" y="1294.6">C</text>
<line x1="71.8" x2="75.3" y1="1748.1" y2="1748.1" stroke="#aaa" stroke-width="1.2"/>
<text class="tk" x="68.5" y="1754.5" text-anchor="end">220</text>
<line x1="71.8" x2="75.3" y1="1675.3" y2="1675.3" stroke="#aaa" stroke-width="1.2"/>
<text class="tk" x="68.5" y="1681.7" text-anchor="end">240</text>
<line x1="71.8" x2="75.3" y1="1602.4" y2="1602.4" stroke="#aaa" stroke-width="1.2"/>
<text class="tk" x="68.5" y="1608.8" text-anchor="end">260</text>
<line x1="71.8" x2="75.3" y1="1529.6" y2="1529.6" stroke="#aaa" stroke-width="1.2"/>
<text class="tk" x="68.5" y="1536.0" text-anchor="end">280</text>
<line x1="71.8" x2="75.3" y1="1456.8" y2="1456.8" stroke="#aaa" stroke-width="1.2"/>
<text class="tk" x="68.5" y="1463.2" text-anchor="end">300</text>
<line x1="71.8" x2="75.3" y1="1384.0" y2="1384.0" stroke="#aaa" stroke-width="1.2"/>
<text class="tk" x="68.5" y="1390.4" text-anchor="end">320</text>
<line x1="71.8" x2="75.3" y1="1311.1" y2="1311.1" stroke="#aaa" stroke-width="1.2"/>
<text class="tk" x="68.5" y="1317.5" text-anchor="end">340</text>
<line x1="71.8" x2="75.3" y1="1238.3" y2="1238.3" stroke="#aaa" stroke-width="1.2"/>
<text class="tk" x="68.5" y="1244.7" text-anchor="end">360</text>
<line x1="75.3" x2="75.3" y1="1766.3" y2="1769.8" stroke="#aaa" stroke-width="1.2"/>
<text class="tk" x="75.3" y="1788.9" text-anchor="middle">0</text>
<line x1="165.1" x2="165.1" y1="1766.3" y2="1769.8" stroke="#aaa" stroke-width="1.2"/>
<text class="tk" x="165.1" y="1788.9" text-anchor="middle">5</text>
<line x1="254.9" x2="254.9" y1="1766.3" y2="1769.8" stroke="#aaa" stroke-width="1.2"/>
<text class="tk" x="254.9" y="1788.9" text-anchor="middle">10</text>
<line x1="344.8" x2="344.8" y1="1766.3" y2="1769.8" stroke="#aaa" stroke-width="1.2"/>
<text class="tk" x="344.8" y="1788.9" text-anchor="middle">15</text>
<line x1="434.6" x2="434.6" y1="1766.3" y2="1769.8" stroke="#aaa" stroke-width="1.2"/>
<text class="tk" x="434.6" y="1788.9" text-anchor="middle">20</text>
<line x1="524.4" x2="524.4" y1="1766.3" y2="1769.8" stroke="#aaa" stroke-width="1.2"/>
<text class="tk" x="524.4" y="1788.9" text-anchor="middle">25</text>
<line x1="614.2" x2="614.2" y1="1766.3" y2="1769.8" stroke="#aaa" stroke-width="1.2"/>
<text class="tk" x="614.2" y="1788.9" text-anchor="middle">30</text>
<line x1="704.0" x2="704.0" y1="1766.3" y2="1769.8" stroke="#aaa" stroke-width="1.2"/>
<text class="tk" x="704.0" y="1788.9" text-anchor="middle">35</text>
<text class="lb it" x="399.1" y="1811.8" text-anchor="middle">ϕ [deg]</text>
<text class="lb" transform="translate(20.8,1501.8) rotate(-90)" text-anchor="middle">Θ <tspan class="it">[deg]</tspan></text>
<text class="tt" x="1142.7" y="1233.3" text-anchor="middle">10 <tspan class="it">kA</tspan></text>
<text class="big" x="839.8" y="1294.6">F</text>
<line x1="815.8" x2="819.3" y1="1748.1" y2="1748.1" stroke="#aaa" stroke-width="1.2"/>
<line x1="815.8" x2="819.3" y1="1675.3" y2="1675.3" stroke="#aaa" stroke-width="1.2"/>
<line x1="815.8" x2="819.3" y1="1602.4" y2="1602.4" stroke="#aaa" stroke-width="1.2"/>
<line x1="815.8" x2="819.3" y1="1529.6" y2="1529.6" stroke="#aaa" stroke-width="1.2"/>
<line x1="815.8" x2="819.3" y1="1456.8" y2="1456.8" stroke="#aaa" stroke-width="1.2"/>
<line x1="815.8" x2="819.3" y1="1384.0" y2="1384.0" stroke="#aaa" stroke-width="1.2"/>
<line x1="815.8" x2="819.3" y1="1311.1" y2="1311.1" stroke="#aaa" stroke-width="1.2"/>
<line x1="815.8" x2="819.3" y1="1238.3" y2="1238.3" stroke="#aaa" stroke-width="1.2"/>
<line x1="819.3" x2="819.3" y1="1766.3" y2="1769.8" stroke="#aaa" stroke-width="1.2"/>
<text class="tk" x="819.3" y="1788.9" text-anchor="middle">0</text>
<line x1="909.1" x2="909.1" y1="1766.3" y2="1769.8" stroke="#aaa" stroke-width="1.2"/>
<text class="tk" x="909.1" y="1788.9" text-anchor="middle">5</text>
<line x1="998.9" x2="998.9" y1="1766.3" y2="1769.8" stroke="#aaa" stroke-width="1.2"/>
<text class="tk" x="998.9" y="1788.9" text-anchor="middle">10</text>
<line x1="1088.8" x2="1088.8" y1="1766.3" y2="1769.8" stroke="#aaa" stroke-width="1.2"/>
<text class="tk" x="1088.8" y="1788.9" text-anchor="middle">15</text>
<line x1="1178.6" x2="1178.6" y1="1766.3" y2="1769.8" stroke="#aaa" stroke-width="1.2"/>
<text class="tk" x="1178.6" y="1788.9" text-anchor="middle">20</text>
<line x1="1268.4" x2="1268.4" y1="1766.3" y2="1769.8" stroke="#aaa" stroke-width="1.2"/>
<text class="tk" x="1268.4" y="1788.9" text-anchor="middle">25</text>
<line x1="1358.2" x2="1358.2" y1="1766.3" y2="1769.8" stroke="#aaa" stroke-width="1.2"/>
<text class="tk" x="1358.2" y="1788.9" text-anchor="middle">30</text>
<line x1="1448.0" x2="1448.0" y1="1766.3" y2="1769.8" stroke="#aaa" stroke-width="1.2"/>
<text class="tk" x="1448.0" y="1788.9" text-anchor="middle">35</text>
<text class="lb it" x="1143.2" y="1811.8" text-anchor="middle">ϕ [deg]</text>
<rect x="1504.0" y="1238.3" width="27.8" height="528.0" fill="url(#plasma)"/>
<rect x="1504.0" y="1238.3" width="27.8" height="528.0" fill="none" stroke="#b8b0c8" stroke-opacity="0.55" stroke-width="1.6"/>
<line x1="1531.8" x2="1535.3" y1="1766.3" y2="1766.3" stroke="#999" stroke-width="1.2"/>
<text class="tk" x="1539.4" y="1773.7">10<tspan class="sup" dy="-8.5">0</tspan></text>
<line x1="1531.8" x2="1535.3" y1="1606.3" y2="1606.3" stroke="#999" stroke-width="1.2"/>
<text class="tk" x="1539.4" y="1613.7">10<tspan class="sup" dy="-8.5">1</tspan></text>
<line x1="1531.8" x2="1535.3" y1="1446.4" y2="1446.4" stroke="#999" stroke-width="1.2"/>
<text class="tk" x="1539.4" y="1453.8">10<tspan class="sup" dy="-8.5">2</tspan></text>
<line x1="1531.8" x2="1535.3" y1="1286.4" y2="1286.4" stroke="#999" stroke-width="1.2"/>
<text class="tk" x="1539.4" y="1293.8">10<tspan class="sup" dy="-8.5">3</tspan></text>
<text class="lb" transform="translate(1589.6,1502.8) rotate(-90)" text-anchor="middle">Connection Length [m]</text>
</g>
</svg></body></html>
